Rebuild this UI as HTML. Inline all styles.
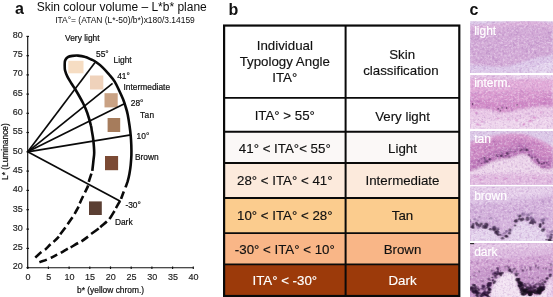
<!DOCTYPE html>
<html><head><meta charset="utf-8"><title>Skin colour volume</title>
<style>
html,body{margin:0;padding:0;background:#fff;}
body{width:553px;height:297px;overflow:hidden;position:relative;font-family:"Liberation Sans",sans-serif;}
svg{position:absolute;left:0;top:0;display:block}
text{font-family:"Liberation Sans",sans-serif;fill:#0d0d0d}
.b{font-weight:bold;font-size:16px;fill:#111}
.t{font-size:8.4px;stroke:#111;stroke-width:.2px}
.k{font-size:9px;fill:#1a1a1a;stroke:#222;stroke-width:.15px}
.c{font-size:13.3px;text-anchor:middle;fill:#111;stroke:#111;stroke-width:.15px}
.w{font-size:12px;fill:#fff;stroke:#fff;stroke-width:.2px}
</style></head><body>
<svg width="553" height="297" viewBox="0 0 553 297">

<text class="b" x="15.1" y="14.4">a</text>
<text x="36.7" y="11.1" style="font-size:12px">Skin colour volume – L*b* plane</text>
<text x="55.2" y="22.7" style="font-size:8.45px">ITA°= (ATAN (L*-50)/b*)x180/3.14159</text>
<g stroke="#111" stroke-width="1.15" fill="none">
<path d="M27.7 36.4V267.7H193.3"/>
<path d="M26.4 267.7h2.6"/>
<path d="M26.4 248.4h2.6"/>
<path d="M26.4 229.1h2.6"/>
<path d="M26.4 209.7h2.6"/>
<path d="M26.4 190.4h2.6"/>
<path d="M26.4 171.1h2.6"/>
<path d="M26.4 151.8h2.6"/>
<path d="M26.4 132.5h2.6"/>
<path d="M26.4 113.3h2.6"/>
<path d="M26.4 94.1h2.6"/>
<path d="M26.4 74.9h2.6"/>
<path d="M26.4 55.7h2.6"/>
<path d="M26.4 36.4h2.6"/>
<path d="M27.7 269.0v-2.6"/>
<path d="M48.4 269.0v-2.6"/>
<path d="M69.1 269.0v-2.6"/>
<path d="M89.8 269.0v-2.6"/>
<path d="M110.5 269.0v-2.6"/>
<path d="M131.2 269.0v-2.6"/>
<path d="M151.9 269.0v-2.6"/>
<path d="M172.6 269.0v-2.6"/>
<path d="M193.3 269.0v-2.6"/>
</g>
<text class="k" x="22.8" y="268.9" text-anchor="end">20</text>
<text class="k" x="22.8" y="250.3" text-anchor="end">25</text>
<text class="k" x="22.8" y="231.0" text-anchor="end">30</text>
<text class="k" x="22.8" y="211.6" text-anchor="end">35</text>
<text class="k" x="22.8" y="192.3" text-anchor="end">40</text>
<text class="k" x="22.8" y="173.0" text-anchor="end">45</text>
<text class="k" x="22.8" y="153.7" text-anchor="end">50</text>
<text class="k" x="22.8" y="134.0" text-anchor="end">55</text>
<text class="k" x="22.8" y="114.8" text-anchor="end">60</text>
<text class="k" x="22.8" y="95.6" text-anchor="end">65</text>
<text class="k" x="22.8" y="76.4" text-anchor="end">70</text>
<text class="k" x="22.8" y="57.2" text-anchor="end">75</text>
<text class="k" x="22.8" y="37.9" text-anchor="end">80</text>
<text class="k" x="28.0" y="279.6" text-anchor="middle">0</text>
<text class="k" x="48.7" y="279.6" text-anchor="middle">5</text>
<text class="k" x="69.4" y="279.6" text-anchor="middle">10</text>
<text class="k" x="90.1" y="279.6" text-anchor="middle">15</text>
<text class="k" x="110.8" y="279.6" text-anchor="middle">20</text>
<text class="k" x="131.5" y="279.6" text-anchor="middle">25</text>
<text class="k" x="152.2" y="279.6" text-anchor="middle">30</text>
<text class="k" x="172.9" y="279.6" text-anchor="middle">35</text>
<text class="k" x="193.6" y="279.6" text-anchor="middle">40</text>
<text class="t" x="77" y="292.6">b* (yellow chrom.)</text>
<text class="t" transform="translate(7.6,180) rotate(-90)">L* (Luminance)</text>
<rect x="68.3" y="60.8" width="15.2" height="12.5" fill="#f6ddc3"/>
<rect x="90" y="75.5" width="13.3" height="14" fill="#efd2bb"/>
<rect x="104.5" y="93.2" width="13.2" height="14.2" fill="#c9a284"/>
<rect x="107.6" y="118" width="12.6" height="14" fill="#a67c5c"/>
<rect x="105" y="156" width="13.1" height="14.2" fill="#7b4a34"/>
<rect x="89" y="201.4" width="12.8" height="13.6" fill="#5b3f33"/>
<g stroke="#0a0a0a" stroke-width="1.7" fill="none" stroke-linecap="butt">
<path d="M27.7 151.8L95 62.6"/>
<path d="M27.7 151.8L112.6 83.3"/>
<path d="M27.7 151.8L125.4 103.3"/>
<path d="M27.7 151.8L130.9 134.9"/>
<path d="M27.7 151.8L120.3 201.3"/>
</g>
<g stroke="#0a0a0a" stroke-width="2.6" fill="none" stroke-linejoin="round">
<path d="M92.3 170.9C92.5 169.1 93.2 163.1 93.5 160.0C93.8 156.9 94.2 155.9 94.2 152.6C94.2 149.3 93.7 143.7 93.3 140.0C92.9 136.3 92.2 133.0 91.8 130.6C91.4 128.2 91.7 128.4 90.9 125.5C90.2 122.6 88.6 116.8 87.3 113.0C86.0 109.2 85.0 106.9 83.0 103.0C81.0 99.1 77.3 92.7 75.4 89.5C73.5 86.3 73.1 86.2 71.8 84.0C70.5 81.8 68.5 78.8 67.4 76.6C66.3 74.4 65.5 72.5 65.1 70.6C64.6 68.7 64.7 66.9 64.7 65.2C64.7 63.5 64.6 61.9 65.1 60.5C65.6 59.1 66.6 57.9 67.8 57.1C69.0 56.3 70.8 56.1 72.5 55.9C74.2 55.6 75.9 55.5 77.9 55.6C79.9 55.8 82.4 56.1 84.6 56.8C86.8 57.4 89.5 58.7 91.3 59.5C93.1 60.3 93.7 60.4 95.6 61.8C97.5 63.1 100.5 65.4 102.8 67.6C105.1 69.8 107.5 72.7 109.5 75.0C111.5 77.3 113.2 79.2 114.7 81.7C116.2 84.2 117.4 86.8 118.8 89.7C120.2 92.6 121.9 96.4 123.1 99.3C124.2 102.2 124.9 104.5 125.7 107.0C126.5 109.5 127.1 111.4 127.7 114.5C128.3 117.6 129.0 122.0 129.5 125.5C130.0 129.0 130.4 132.2 130.7 135.5C131.0 138.8 131.2 141.8 131.3 145.0C131.4 148.2 131.5 151.7 131.4 155.0C131.3 158.3 131.0 161.8 130.7 165.0C130.4 168.2 129.9 171.2 129.4 174.0C128.9 176.8 128.2 179.5 127.6 181.7C126.9 183.9 125.8 186.4 125.5 187.4"/>
</g>
<g stroke="#0a0a0a" stroke-width="2.6" fill="none">
<path d="M91.4 173.6C91.0 175.0 89.3 179.8 88.8 181.8C88.3 183.8 88.8 183.8 88.2 185.5C87.6 187.2 85.8 190.6 85.0 192.3C84.2 194.0 84.1 194.1 83.2 195.9C82.3 197.7 80.6 201.4 79.8 203.2C79.0 205.0 79.4 204.8 78.6 206.5C77.8 208.2 75.7 211.9 74.7 213.7C73.7 215.5 73.8 215.4 72.6 217.1C71.4 218.8 69.0 222.3 67.8 224.0C66.6 225.7 66.7 225.6 65.5 227.3C64.3 229.0 61.6 232.5 60.5 234.0C59.4 235.5 60.1 235.1 59.0 236.4C57.9 237.7 55.2 240.3 53.8 241.6C52.4 242.9 52.1 242.8 50.7 244.1C49.3 245.4 46.8 248.2 45.3 249.5C43.8 250.8 43.3 250.4 41.6 251.8C39.9 253.2 36.3 256.7 35.3 257.7" stroke-dasharray="8.64 3.76 7.55 4.04 8.09 3.53 8.22 4.01 8.44 4.04 8.39 2.84 7.38 4.00 7.67 4.37 8.67"/>
<path d="M123.8 191.4C123.3 192.6 121.7 197.2 121.1 198.8C120.5 200.4 120.9 199.4 120.1 200.9C119.2 202.4 116.9 206.3 116.0 208.0C115.1 209.7 115.6 209.1 114.5 210.9C113.4 212.7 110.8 217.1 109.5 218.8C108.2 220.6 108.4 220.0 106.9 221.4C105.4 222.8 101.8 225.8 100.5 227.0C99.2 228.2 100.3 227.4 98.8 228.5C97.3 229.6 93.2 232.5 91.4 233.8C89.6 235.1 89.8 235.3 88.2 236.5C86.6 237.7 83.5 240.0 81.8 241.1C80.1 242.2 80.1 241.9 78.3 242.9C76.5 243.9 72.7 246.2 71.0 247.2C69.3 248.1 69.6 247.7 68.0 248.6C66.4 249.5 63.0 251.7 61.2 252.7C59.5 253.7 59.2 253.7 57.5 254.5C55.8 255.3 52.9 256.9 51.2 257.7C49.5 258.5 49.1 258.7 47.1 259.5C45.1 260.3 40.7 261.8 39.4 262.3" stroke-dasharray="7.91 2.34 8.23 3.28 9.39 3.69 8.54 2.28 9.14 4.20 7.91 3.95 8.51 3.32 7.97 4.13 7.09 4.50 8.23"/>
</g>
<text class="t" x="65.1" y="41.2">Very light</text>
<text class="t" x="96" y="56.5">55°</text>
<text class="t" x="113.5" y="62.9">Light</text>
<text class="t" x="117.2" y="78.7">41°</text>
<text class="t" x="123.5" y="89.7">Intermediate</text>
<text class="t" x="130.8" y="105.9">28°</text>
<text class="t" x="139.9" y="118.2" style="letter-spacing:.4px">Tan</text>
<text class="t" x="136.6" y="138.5">10°</text>
<text class="t" x="134.9" y="160">Brown</text>
<text class="t" x="125.4" y="208.1">-30°</text>
<text class="t" x="114.9" y="224.5">Dark</text>
<text class="b" x="228.4" y="14.8">b</text>
<rect x="224.1" y="25.3" width="235.20000000000002" height="72.55" fill="#ffffff"/>
<rect x="224.1" y="97.85" width="235.20000000000002" height="33.849999999999994" fill="#ffffff"/>
<rect x="224.1" y="131.7" width="235.20000000000002" height="31.30000000000001" fill="#fbf8f7"/>
<rect x="224.1" y="163.0" width="235.20000000000002" height="34.94999999999999" fill="#fceadc"/>
<rect x="224.1" y="197.95" width="235.20000000000002" height="35.150000000000006" fill="#fbcc8e"/>
<rect x="224.1" y="233.1" width="235.20000000000002" height="31.299999999999983" fill="#f9b687"/>
<rect x="224.1" y="264.4" width="235.20000000000002" height="31.600000000000023" fill="#9c3a0a"/>
<g stroke="#0a0a0a" stroke-width="2" fill="none">
<rect x="224.1" y="25.55" width="235.20000000000002" height="270.45" stroke-width="2.2"/>
<path d="M345.6 25.3V296" stroke-width="2"/>
<path d="M224.1 97.85H459.3" stroke-width="1.9"/>
<path d="M224.1 131.7H459.3" stroke-width="1.9"/>
<path d="M224.1 163.0H459.3" stroke-width="1.9"/>
<path d="M224.1 197.95H459.3" stroke-width="1.9"/>
<path d="M224.1 233.1H459.3" stroke-width="1.9"/>
<path d="M224.1 264.4H459.3" stroke-width="1.9"/>
</g>
<text class="c" x="284.8" y="49.5">Individual</text>
<text class="c" x="284.8" y="65.7">Typology Angle</text>
<text class="c" x="284.8" y="81.8">ITA°</text>
<text class="c" x="402.2" y="58.5">Skin</text>
<text class="c" x="400.9" y="74.7">classification</text>
<text class="c" x="284.8" y="120.3">ITA° &gt; 55°</text>
<text class="c" x="402.5" y="120.9">Very light</text>
<text class="c" x="284.8" y="152.9">41° &lt; ITA°&lt; 55°</text>
<text class="c" x="402.5" y="152.9">Light</text>
<text class="c" x="284.8" y="184.8">28° &lt; ITA° &lt; 41°</text>
<text class="c" x="402.5" y="185.2">Intermediate</text>
<text class="c" x="284.8" y="219.6">10° &lt; ITA° &lt; 28°</text>
<text class="c" x="402.5" y="219.6">Tan</text>
<text class="c" x="284.8" y="254.2">-30° &lt; ITA° &lt; 10°</text>
<text class="c" x="402.5" y="254.2">Brown</text>
<text class="c" x="284.8" y="284.8" style="fill:#fff;stroke:#fff">ITA° &lt; -30°</text>
<text class="c" x="402.5" y="285.1" style="fill:#fff;stroke:#fff">Dark</text>
<text class="b" x="469.6" y="15.2">c</text>
<defs><filter id="bl4" x="-10%" y="-10%" width="120%" height="120%"><feGaussianBlur stdDeviation="5"/></filter><filter id="bl2" x="-10%" y="-10%" width="120%" height="120%"><feGaussianBlur stdDeviation="2.5"/></filter><filter id="bl1" x="-10%" y="-10%" width="120%" height="120%"><feGaussianBlur stdDeviation="1.6"/></filter><filter id="nzd" x="0" y="0" width="100%" height="100%"><feTurbulence type="fractalNoise" baseFrequency="0.09" numOctaves="2" seed="3"/><feColorMatrix type="matrix" values="0 0 0 0 0.42  0 0 0 0 0.2  0 0 0 0 0.5  1.1 0 0 0 -0.5"/></filter><filter id="nzl" x="0" y="0" width="100%" height="100%"><feTurbulence type="fractalNoise" baseFrequency="0.09" numOctaves="2" seed="11"/><feColorMatrix type="matrix" values="0 0 0 0 1  0 0 0 0 0.96  0 0 0 0 1  1.1 0 0 0 -0.5"/></filter></defs><svg x="467" y="19" width="86" height="64" viewBox="0 0 455.8 339.2" overflow="hidden"><defs><clipPath id="cp1"><rect x="16.2" y="12.2" width="445" height="274.0"/></clipPath></defs><g clip-path="url(#cp1)"><rect x="0" y="0" width="460" height="340" fill="#dccbe9"/><g filter="url(#bl4)"><path d="M15 32C32 31 81 29 120 26C159 23 215 15 250 12C285 9 305 8 330 8C355 8 379 11 400 14C421 17 447 24 456 26L456 340L15 340Z" fill="#dcb2dc"/><path d="M15 60C32 59 81 57 120 54C159 51 215 43 250 40C285 37 305 35 330 36C355 37 379 41 400 44C421 47 447 54 456 56L456 340L15 340Z" fill="#d3aad7"/><path d="M15 240C32 242 89 248 120 250C151 252 175 254 200 252C225 250 248 241 270 235C292 229 308 221 330 215C352 209 379 204 400 200C421 196 447 190 456 188L456 340L15 340Z" fill="#dcc8e9"/><path d="M260 300 L456 215 L456 340 L260 340Z" fill="#e6d8f0" opacity="0.7"/></g><g filter="url(#bl2)"><ellipse cx="74" cy="217" rx="6.3" ry="5.0" fill="#b07fbc" opacity="0.33"/><ellipse cx="233" cy="133" rx="6.0" ry="6.0" fill="#b07fbc" opacity="0.33"/><ellipse cx="56" cy="63" rx="6.5" ry="5.7" fill="#b07fbc" opacity="0.33"/><ellipse cx="351" cy="39" rx="5.3" ry="5.3" fill="#b07fbc" opacity="0.33"/><ellipse cx="116" cy="239" rx="6.7" ry="4.8" fill="#b07fbc" opacity="0.33"/><ellipse cx="26" cy="158" rx="6.8" ry="5.8" fill="#b07fbc" opacity="0.33"/><ellipse cx="111" cy="137" rx="4.1" ry="3.2" fill="#b07fbc" opacity="0.33"/><ellipse cx="208" cy="146" rx="4.7" ry="3.7" fill="#b07fbc" opacity="0.33"/><ellipse cx="111" cy="144" rx="4.9" ry="3.5" fill="#b07fbc" opacity="0.33"/><ellipse cx="384" cy="132" rx="5.9" ry="4.6" fill="#b07fbc" opacity="0.33"/><ellipse cx="453" cy="170" rx="4.4" ry="3.6" fill="#b07fbc" opacity="0.33"/><ellipse cx="333" cy="163" rx="6.8" ry="5.9" fill="#b07fbc" opacity="0.33"/><ellipse cx="381" cy="151" rx="4.9" ry="4.6" fill="#b07fbc" opacity="0.33"/><ellipse cx="404" cy="175" rx="5.5" ry="5.2" fill="#b07fbc" opacity="0.33"/><ellipse cx="30" cy="103" rx="6.4" ry="5.5" fill="#b07fbc" opacity="0.33"/><ellipse cx="91" cy="161" rx="6.1" ry="5.9" fill="#b07fbc" opacity="0.33"/><ellipse cx="180" cy="137" rx="5.5" ry="5.6" fill="#b07fbc" opacity="0.33"/><ellipse cx="245" cy="119" rx="5.5" ry="3.9" fill="#b07fbc" opacity="0.33"/><ellipse cx="34" cy="188" rx="6.9" ry="6.5" fill="#b07fbc" opacity="0.33"/><ellipse cx="189" cy="82" rx="5.5" ry="6.0" fill="#b07fbc" opacity="0.33"/><ellipse cx="355" cy="131" rx="6.6" ry="5.2" fill="#b07fbc" opacity="0.33"/><ellipse cx="242" cy="232" rx="5.7" ry="5.1" fill="#b07fbc" opacity="0.33"/><ellipse cx="134" cy="161" rx="6.9" ry="4.8" fill="#b07fbc" opacity="0.33"/><ellipse cx="361" cy="178" rx="6.7" ry="6.6" fill="#b07fbc" opacity="0.33"/><ellipse cx="372" cy="126" rx="5.7" ry="4.9" fill="#b07fbc" opacity="0.33"/><ellipse cx="40" cy="218" rx="5.7" ry="4.5" fill="#b07fbc" opacity="0.33"/><ellipse cx="238" cy="139" rx="5.1" ry="4.3" fill="#b07fbc" opacity="0.33"/><ellipse cx="252" cy="164" rx="5.8" ry="5.2" fill="#b07fbc" opacity="0.33"/><ellipse cx="27" cy="101" rx="4.5" ry="4.2" fill="#b07fbc" opacity="0.33"/><ellipse cx="395" cy="169" rx="6.4" ry="6.6" fill="#b07fbc" opacity="0.33"/><ellipse cx="128" cy="219" rx="6.0" ry="4.4" fill="#b07fbc" opacity="0.33"/><ellipse cx="22" cy="62" rx="6.3" ry="5.0" fill="#b07fbc" opacity="0.33"/><ellipse cx="63" cy="174" rx="5.0" ry="3.7" fill="#b07fbc" opacity="0.33"/><ellipse cx="85" cy="157" rx="4.5" ry="3.6" fill="#b07fbc" opacity="0.33"/><ellipse cx="329" cy="118" rx="5.0" ry="4.4" fill="#b07fbc" opacity="0.33"/><ellipse cx="25" cy="130" rx="5.3" ry="4.1" fill="#b07fbc" opacity="0.33"/><ellipse cx="63" cy="226" rx="5.5" ry="4.3" fill="#b07fbc" opacity="0.33"/><ellipse cx="282" cy="196" rx="4.1" ry="2.9" fill="#b07fbc" opacity="0.33"/><ellipse cx="80" cy="193" rx="4.5" ry="4.4" fill="#b07fbc" opacity="0.33"/><ellipse cx="314" cy="137" rx="4.7" ry="5.1" fill="#b07fbc" opacity="0.33"/><ellipse cx="367" cy="126" rx="4.7" ry="4.5" fill="#b07fbc" opacity="0.33"/><ellipse cx="189" cy="165" rx="5.0" ry="4.7" fill="#b07fbc" opacity="0.33"/><ellipse cx="41" cy="113" rx="6.9" ry="7.3" fill="#b07fbc" opacity="0.33"/><ellipse cx="150" cy="222" rx="4.9" ry="5.3" fill="#b07fbc" opacity="0.33"/><ellipse cx="343" cy="110" rx="4.8" ry="3.3" fill="#b07fbc" opacity="0.33"/><ellipse cx="403" cy="50" rx="6.5" ry="7.0" fill="#b07fbc" opacity="0.33"/><ellipse cx="266" cy="73" rx="6.6" ry="7.2" fill="#b07fbc" opacity="0.33"/><ellipse cx="325" cy="128" rx="5.1" ry="4.3" fill="#b07fbc" opacity="0.33"/><ellipse cx="106" cy="185" rx="5.3" ry="4.1" fill="#b07fbc" opacity="0.33"/><ellipse cx="61" cy="182" rx="4.9" ry="4.4" fill="#b07fbc" opacity="0.33"/><ellipse cx="158" cy="225" rx="6.7" ry="4.7" fill="#b07fbc" opacity="0.33"/><ellipse cx="104" cy="118" rx="7.0" ry="7.1" fill="#b07fbc" opacity="0.33"/><ellipse cx="165" cy="92" rx="6.0" ry="6.2" fill="#b07fbc" opacity="0.33"/><ellipse cx="426" cy="99" rx="6.6" ry="6.5" fill="#b07fbc" opacity="0.33"/><ellipse cx="229" cy="242" rx="4.7" ry="4.7" fill="#b07fbc" opacity="0.33"/><ellipse cx="52" cy="89" rx="6.7" ry="5.3" fill="#b07fbc" opacity="0.33"/><ellipse cx="350" cy="142" rx="6.5" ry="5.5" fill="#b07fbc" opacity="0.33"/><ellipse cx="165" cy="108" rx="6.6" ry="6.2" fill="#b07fbc" opacity="0.33"/><ellipse cx="436" cy="176" rx="4.4" ry="4.1" fill="#b07fbc" opacity="0.33"/><ellipse cx="61" cy="65" rx="4.2" ry="4.4" fill="#b07fbc" opacity="0.33"/><ellipse cx="363" cy="179" rx="5.0" ry="4.8" fill="#b07fbc" opacity="0.33"/><ellipse cx="360" cy="103" rx="5.7" ry="4.5" fill="#b07fbc" opacity="0.33"/><ellipse cx="51" cy="107" rx="6.7" ry="6.2" fill="#b07fbc" opacity="0.33"/><ellipse cx="423" cy="116" rx="4.8" ry="4.9" fill="#b07fbc" opacity="0.33"/><ellipse cx="380" cy="44" rx="6.0" ry="4.4" fill="#b07fbc" opacity="0.33"/><ellipse cx="66" cy="223" rx="4.1" ry="3.3" fill="#b07fbc" opacity="0.33"/><ellipse cx="451" cy="111" rx="4.3" ry="3.3" fill="#b07fbc" opacity="0.33"/><ellipse cx="121" cy="200" rx="4.3" ry="4.6" fill="#b07fbc" opacity="0.33"/><ellipse cx="182" cy="245" rx="6.7" ry="5.5" fill="#b07fbc" opacity="0.33"/><ellipse cx="127" cy="147" rx="4.3" ry="4.1" fill="#b07fbc" opacity="0.33"/><ellipse cx="32" cy="61" rx="6.9" ry="5.7" fill="#b07fbc" opacity="0.33"/><ellipse cx="278" cy="126" rx="4.9" ry="3.6" fill="#b07fbc" opacity="0.33"/><ellipse cx="418" cy="192" rx="6.9" ry="5.1" fill="#b07fbc" opacity="0.33"/><ellipse cx="110" cy="175" rx="6.9" ry="6.4" fill="#b07fbc" opacity="0.33"/><ellipse cx="318" cy="157" rx="4.8" ry="4.4" fill="#b07fbc" opacity="0.33"/><ellipse cx="151" cy="100" rx="4.2" ry="3.4" fill="#b07fbc" opacity="0.33"/><ellipse cx="449" cy="115" rx="6.0" ry="5.7" fill="#b07fbc" opacity="0.33"/><ellipse cx="430" cy="106" rx="4.9" ry="4.1" fill="#b07fbc" opacity="0.33"/><ellipse cx="155" cy="220" rx="6.7" ry="5.5" fill="#b07fbc" opacity="0.33"/><ellipse cx="162" cy="159" rx="5.7" ry="5.4" fill="#b07fbc" opacity="0.33"/><ellipse cx="123" cy="58" rx="4.7" ry="3.4" fill="#b07fbc" opacity="0.33"/><ellipse cx="258" cy="54" rx="4.2" ry="4.0" fill="#b07fbc" opacity="0.33"/><ellipse cx="143" cy="209" rx="5.5" ry="5.7" fill="#b07fbc" opacity="0.33"/><ellipse cx="83" cy="152" rx="6.4" ry="4.7" fill="#b07fbc" opacity="0.33"/><ellipse cx="434" cy="76" rx="6.3" ry="6.9" fill="#b07fbc" opacity="0.33"/><ellipse cx="377" cy="94" rx="4.3" ry="3.9" fill="#b07fbc" opacity="0.33"/><ellipse cx="420" cy="92" rx="6.7" ry="5.1" fill="#b07fbc" opacity="0.33"/><ellipse cx="417" cy="52" rx="4.9" ry="5.3" fill="#b07fbc" opacity="0.33"/><ellipse cx="370" cy="191" rx="6.5" ry="6.5" fill="#b07fbc" opacity="0.33"/><ellipse cx="319" cy="69" rx="5.3" ry="4.0" fill="#b07fbc" opacity="0.33"/><ellipse cx="330" cy="156" rx="4.8" ry="3.5" fill="#b07fbc" opacity="0.33"/><ellipse cx="440" cy="165" rx="5.6" ry="5.2" fill="#b07fbc" opacity="0.33"/><ellipse cx="390" cy="115" rx="5.2" ry="4.3" fill="#b07fbc" opacity="0.33"/><ellipse cx="129" cy="58" rx="5.9" ry="5.1" fill="#b07fbc" opacity="0.33"/><ellipse cx="267" cy="51" rx="5.1" ry="3.8" fill="#b07fbc" opacity="0.33"/><ellipse cx="70" cy="106" rx="6.5" ry="5.6" fill="#b07fbc" opacity="0.33"/><ellipse cx="192" cy="172" rx="4.7" ry="3.3" fill="#b07fbc" opacity="0.33"/><ellipse cx="248" cy="140" rx="5.9" ry="5.2" fill="#b07fbc" opacity="0.33"/><ellipse cx="318" cy="170" rx="4.7" ry="4.2" fill="#b07fbc" opacity="0.33"/><ellipse cx="226" cy="88" rx="5.2" ry="4.8" fill="#b07fbc" opacity="0.33"/><ellipse cx="415" cy="184" rx="4.8" ry="4.6" fill="#b07fbc" opacity="0.33"/><ellipse cx="36" cy="72" rx="5.5" ry="5.8" fill="#b07fbc" opacity="0.33"/><ellipse cx="85" cy="202" rx="6.6" ry="5.5" fill="#b07fbc" opacity="0.33"/><ellipse cx="320" cy="191" rx="5.1" ry="5.0" fill="#b07fbc" opacity="0.33"/><ellipse cx="340" cy="142" rx="6.6" ry="7.0" fill="#b07fbc" opacity="0.33"/><ellipse cx="438" cy="132" rx="4.5" ry="3.6" fill="#b07fbc" opacity="0.33"/><ellipse cx="111" cy="165" rx="6.3" ry="4.5" fill="#b07fbc" opacity="0.33"/><ellipse cx="316" cy="168" rx="5.0" ry="4.6" fill="#b07fbc" opacity="0.33"/><ellipse cx="88" cy="195" rx="4.1" ry="4.5" fill="#b07fbc" opacity="0.33"/><ellipse cx="371" cy="145" rx="4.8" ry="5.1" fill="#b07fbc" opacity="0.33"/><ellipse cx="438" cy="72" rx="6.3" ry="6.6" fill="#b07fbc" opacity="0.33"/><ellipse cx="306" cy="167" rx="5.3" ry="5.7" fill="#b07fbc" opacity="0.33"/><ellipse cx="443" cy="106" rx="6.4" ry="5.6" fill="#b07fbc" opacity="0.33"/><ellipse cx="88" cy="118" rx="4.4" ry="4.7" fill="#b07fbc" opacity="0.33"/><ellipse cx="438" cy="69" rx="5.8" ry="5.0" fill="#b07fbc" opacity="0.33"/><ellipse cx="67" cy="113" rx="4.7" ry="4.7" fill="#b07fbc" opacity="0.33"/><ellipse cx="17" cy="94" rx="5.3" ry="3.8" fill="#b07fbc" opacity="0.33"/><ellipse cx="292" cy="153" rx="6.5" ry="5.1" fill="#b07fbc" opacity="0.33"/><ellipse cx="141" cy="160" rx="4.8" ry="4.5" fill="#b07fbc" opacity="0.33"/><ellipse cx="126" cy="188" rx="6.4" ry="6.5" fill="#b07fbc" opacity="0.33"/><ellipse cx="444" cy="128" rx="6.5" ry="6.7" fill="#e2c4e4" opacity="0.3"/><ellipse cx="354" cy="136" rx="6.1" ry="5.0" fill="#e2c4e4" opacity="0.3"/><ellipse cx="63" cy="209" rx="5.4" ry="5.3" fill="#e2c4e4" opacity="0.3"/><ellipse cx="255" cy="232" rx="7.3" ry="7.9" fill="#e2c4e4" opacity="0.3"/><ellipse cx="75" cy="151" rx="6.7" ry="5.5" fill="#e2c4e4" opacity="0.3"/><ellipse cx="237" cy="113" rx="6.6" ry="4.6" fill="#e2c4e4" opacity="0.3"/><ellipse cx="210" cy="137" rx="5.9" ry="5.1" fill="#e2c4e4" opacity="0.3"/><ellipse cx="360" cy="155" rx="6.5" ry="6.2" fill="#e2c4e4" opacity="0.3"/><ellipse cx="182" cy="89" rx="5.0" ry="4.1" fill="#e2c4e4" opacity="0.3"/><ellipse cx="279" cy="209" rx="7.5" ry="6.8" fill="#e2c4e4" opacity="0.3"/><ellipse cx="450" cy="117" rx="7.5" ry="6.5" fill="#e2c4e4" opacity="0.3"/><ellipse cx="343" cy="210" rx="5.9" ry="4.5" fill="#e2c4e4" opacity="0.3"/><ellipse cx="288" cy="139" rx="6.1" ry="4.3" fill="#e2c4e4" opacity="0.3"/><ellipse cx="187" cy="134" rx="6.2" ry="6.5" fill="#e2c4e4" opacity="0.3"/><ellipse cx="273" cy="182" rx="7.7" ry="7.7" fill="#e2c4e4" opacity="0.3"/><ellipse cx="232" cy="193" rx="6.9" ry="6.6" fill="#e2c4e4" opacity="0.3"/><ellipse cx="293" cy="115" rx="6.9" ry="6.6" fill="#e2c4e4" opacity="0.3"/><ellipse cx="428" cy="163" rx="7.5" ry="7.6" fill="#e2c4e4" opacity="0.3"/><ellipse cx="375" cy="141" rx="6.0" ry="4.9" fill="#e2c4e4" opacity="0.3"/><ellipse cx="327" cy="193" rx="6.6" ry="5.0" fill="#e2c4e4" opacity="0.3"/><ellipse cx="382" cy="120" rx="6.4" ry="4.6" fill="#e2c4e4" opacity="0.3"/><ellipse cx="240" cy="191" rx="6.3" ry="5.3" fill="#e2c4e4" opacity="0.3"/><ellipse cx="305" cy="41" rx="6.5" ry="7.0" fill="#e2c4e4" opacity="0.3"/><ellipse cx="319" cy="110" rx="7.1" ry="6.7" fill="#e2c4e4" opacity="0.3"/><ellipse cx="107" cy="95" rx="7.7" ry="6.2" fill="#e2c4e4" opacity="0.3"/><ellipse cx="48" cy="212" rx="6.6" ry="5.6" fill="#e2c4e4" opacity="0.3"/><ellipse cx="241" cy="189" rx="5.5" ry="5.3" fill="#e2c4e4" opacity="0.3"/><ellipse cx="330" cy="182" rx="5.8" ry="5.5" fill="#e2c4e4" opacity="0.3"/><ellipse cx="117" cy="164" rx="5.5" ry="5.6" fill="#e2c4e4" opacity="0.3"/><ellipse cx="397" cy="95" rx="5.7" ry="6.2" fill="#e2c4e4" opacity="0.3"/></g><rect x="0" y="0" width="456" height="340" filter="url(#nzd)"/><rect x="0" y="0" width="456" height="340" filter="url(#nzl)"/></g></svg><svg x="467" y="73" width="86" height="64" viewBox="0 0 455.8 339.2" overflow="hidden"><defs><clipPath id="cp2"><rect x="16.2" y="11.1" width="445" height="284.6"/></clipPath></defs><g clip-path="url(#cp2)"><rect x="0" y="0" width="460" height="340" fill="#ead2ec"/><g filter="url(#bl4)"><path d="M15 10 L250 10 L250 40 L15 40Z" fill="#e4c2e4" opacity="0.9"/><path d="M15 32C32 32 84 29 120 30C156 31 200 36 230 36C260 36 275 31 300 30C325 29 354 29 380 30C406 31 443 33 456 34L456 340L15 340Z" fill="#e2aad8"/><path d="M15 105C32 104 84 101 120 100C156 99 200 100 230 98C260 96 275 91 300 90C325 89 354 90 380 92C406 94 443 99 456 100L456 340L15 340Z" fill="#da9acf"/><path d="M15 150C28 149 66 143 90 145C114 147 139 157 160 160C181 163 198 165 215 163C232 161 242 154 260 150C278 146 298 143 320 140C342 137 367 134 390 133C413 132 445 135 456 135L456 340L15 340Z" fill="#cf86c4" opacity="0.75"/><path d="M15 195C28 194 66 188 90 190C114 192 139 202 160 205C181 208 198 210 215 208C232 206 242 199 260 195C278 191 298 188 320 185C342 182 367 179 390 178C413 177 445 180 456 180L456 340L15 340Z" fill="#eac9e7"/><path d="M15 255 L456 240 L456 340 L15 340Z" fill="#f0d9ef" opacity="0.8"/></g><g filter="url(#bl2)"><ellipse cx="437" cy="175" rx="4.2" ry="3.1" fill="#b468b2" opacity="0.3"/><ellipse cx="383" cy="156" rx="6.0" ry="4.9" fill="#b468b2" opacity="0.3"/><ellipse cx="282" cy="152" rx="5.7" ry="4.4" fill="#b468b2" opacity="0.3"/><ellipse cx="205" cy="141" rx="6.2" ry="6.8" fill="#b468b2" opacity="0.3"/><ellipse cx="434" cy="142" rx="5.3" ry="4.3" fill="#b468b2" opacity="0.3"/><ellipse cx="31" cy="107" rx="5.4" ry="4.5" fill="#b468b2" opacity="0.3"/><ellipse cx="183" cy="195" rx="5.6" ry="5.2" fill="#b468b2" opacity="0.3"/><ellipse cx="119" cy="102" rx="5.0" ry="3.8" fill="#b468b2" opacity="0.3"/><ellipse cx="240" cy="201" rx="6.0" ry="4.7" fill="#b468b2" opacity="0.3"/><ellipse cx="409" cy="162" rx="6.2" ry="6.6" fill="#b468b2" opacity="0.3"/><ellipse cx="351" cy="163" rx="5.1" ry="5.5" fill="#b468b2" opacity="0.3"/><ellipse cx="439" cy="111" rx="6.3" ry="6.2" fill="#b468b2" opacity="0.3"/><ellipse cx="218" cy="156" rx="5.5" ry="5.9" fill="#b468b2" opacity="0.3"/><ellipse cx="236" cy="184" rx="5.1" ry="5.3" fill="#b468b2" opacity="0.3"/><ellipse cx="412" cy="134" rx="5.7" ry="6.1" fill="#b468b2" opacity="0.3"/><ellipse cx="334" cy="136" rx="4.7" ry="3.9" fill="#b468b2" opacity="0.3"/><ellipse cx="324" cy="106" rx="6.7" ry="5.4" fill="#b468b2" opacity="0.3"/><ellipse cx="417" cy="122" rx="6.9" ry="6.8" fill="#b468b2" opacity="0.3"/><ellipse cx="237" cy="151" rx="6.0" ry="5.6" fill="#b468b2" opacity="0.3"/><ellipse cx="153" cy="121" rx="5.5" ry="5.9" fill="#b468b2" opacity="0.3"/><ellipse cx="290" cy="99" rx="6.5" ry="6.4" fill="#b468b2" opacity="0.3"/><ellipse cx="415" cy="112" rx="6.2" ry="4.5" fill="#b468b2" opacity="0.3"/><ellipse cx="303" cy="117" rx="4.7" ry="4.9" fill="#b468b2" opacity="0.3"/><ellipse cx="62" cy="149" rx="6.6" ry="5.2" fill="#b468b2" opacity="0.3"/><ellipse cx="108" cy="183" rx="5.3" ry="5.2" fill="#b468b2" opacity="0.3"/><ellipse cx="29" cy="137" rx="4.5" ry="4.4" fill="#b468b2" opacity="0.3"/><ellipse cx="52" cy="189" rx="4.1" ry="4.0" fill="#b468b2" opacity="0.3"/><ellipse cx="24" cy="128" rx="6.4" ry="4.9" fill="#b468b2" opacity="0.3"/><ellipse cx="96" cy="163" rx="5.2" ry="3.7" fill="#b468b2" opacity="0.3"/><ellipse cx="452" cy="112" rx="4.1" ry="3.4" fill="#b468b2" opacity="0.3"/><ellipse cx="286" cy="165" rx="4.3" ry="3.6" fill="#b468b2" opacity="0.3"/><ellipse cx="29" cy="145" rx="6.3" ry="6.3" fill="#b468b2" opacity="0.3"/><ellipse cx="413" cy="158" rx="6.6" ry="6.5" fill="#b468b2" opacity="0.3"/><ellipse cx="223" cy="122" rx="6.0" ry="4.9" fill="#b468b2" opacity="0.3"/><ellipse cx="60" cy="143" rx="6.6" ry="5.0" fill="#b468b2" opacity="0.3"/><ellipse cx="273" cy="132" rx="5.5" ry="4.2" fill="#b468b2" opacity="0.3"/><ellipse cx="438" cy="119" rx="5.8" ry="5.0" fill="#b468b2" opacity="0.3"/><ellipse cx="23" cy="155" rx="4.4" ry="3.2" fill="#b468b2" opacity="0.3"/><ellipse cx="30" cy="119" rx="4.3" ry="4.1" fill="#b468b2" opacity="0.3"/><ellipse cx="239" cy="199" rx="6.8" ry="7.5" fill="#b468b2" opacity="0.3"/><ellipse cx="118" cy="143" rx="4.8" ry="4.5" fill="#b468b2" opacity="0.3"/><ellipse cx="290" cy="170" rx="6.1" ry="4.9" fill="#b468b2" opacity="0.3"/><ellipse cx="202" cy="156" rx="4.0" ry="2.9" fill="#b468b2" opacity="0.3"/><ellipse cx="195" cy="111" rx="6.2" ry="4.9" fill="#b468b2" opacity="0.3"/><ellipse cx="59" cy="119" rx="4.7" ry="3.7" fill="#b468b2" opacity="0.3"/><ellipse cx="245" cy="144" rx="4.9" ry="4.7" fill="#b468b2" opacity="0.3"/><ellipse cx="109" cy="185" rx="6.9" ry="6.8" fill="#b468b2" opacity="0.3"/><ellipse cx="206" cy="154" rx="5.7" ry="4.1" fill="#b468b2" opacity="0.3"/><ellipse cx="199" cy="156" rx="4.5" ry="3.4" fill="#b468b2" opacity="0.3"/><ellipse cx="369" cy="124" rx="5.6" ry="5.9" fill="#b468b2" opacity="0.3"/><ellipse cx="284" cy="121" rx="7.0" ry="5.9" fill="#b468b2" opacity="0.3"/><ellipse cx="23" cy="166" rx="4.3" ry="3.5" fill="#b468b2" opacity="0.3"/><ellipse cx="386" cy="150" rx="4.0" ry="3.6" fill="#b468b2" opacity="0.3"/><ellipse cx="196" cy="151" rx="4.6" ry="4.3" fill="#b468b2" opacity="0.3"/><ellipse cx="48" cy="129" rx="5.1" ry="5.5" fill="#b468b2" opacity="0.3"/><ellipse cx="49" cy="171" rx="4.6" ry="4.3" fill="#b468b2" opacity="0.3"/><ellipse cx="188" cy="149" rx="6.3" ry="5.4" fill="#b468b2" opacity="0.3"/><ellipse cx="69" cy="113" rx="4.2" ry="4.4" fill="#b468b2" opacity="0.3"/><ellipse cx="298" cy="185" rx="6.1" ry="4.3" fill="#b468b2" opacity="0.3"/><ellipse cx="306" cy="166" rx="6.2" ry="5.5" fill="#b468b2" opacity="0.3"/><ellipse cx="173" cy="148" rx="6.4" ry="5.2" fill="#b468b2" opacity="0.3"/><ellipse cx="247" cy="145" rx="6.9" ry="7.0" fill="#b468b2" opacity="0.3"/><ellipse cx="426" cy="166" rx="4.9" ry="3.9" fill="#b468b2" opacity="0.3"/><ellipse cx="231" cy="125" rx="5.3" ry="5.1" fill="#b468b2" opacity="0.3"/><ellipse cx="420" cy="145" rx="6.5" ry="4.8" fill="#b468b2" opacity="0.3"/><ellipse cx="172" cy="205" rx="4.4" ry="3.8" fill="#b468b2" opacity="0.3"/><ellipse cx="44" cy="111" rx="6.7" ry="7.3" fill="#b468b2" opacity="0.3"/><ellipse cx="301" cy="103" rx="4.9" ry="3.9" fill="#b468b2" opacity="0.3"/><ellipse cx="311" cy="156" rx="5.3" ry="4.8" fill="#b468b2" opacity="0.3"/><ellipse cx="64" cy="151" rx="6.8" ry="6.9" fill="#b468b2" opacity="0.3"/><ellipse cx="57" cy="149" rx="6.1" ry="4.9" fill="#b468b2" opacity="0.3"/><ellipse cx="410" cy="134" rx="6.1" ry="5.3" fill="#b468b2" opacity="0.3"/><ellipse cx="454" cy="163" rx="5.7" ry="4.3" fill="#b468b2" opacity="0.3"/><ellipse cx="210" cy="102" rx="5.8" ry="6.1" fill="#b468b2" opacity="0.3"/><ellipse cx="95" cy="147" rx="5.4" ry="4.7" fill="#b468b2" opacity="0.3"/><ellipse cx="328" cy="178" rx="6.1" ry="5.4" fill="#b468b2" opacity="0.3"/><ellipse cx="439" cy="125" rx="6.2" ry="6.0" fill="#b468b2" opacity="0.3"/><ellipse cx="351" cy="169" rx="4.7" ry="4.4" fill="#b468b2" opacity="0.3"/><ellipse cx="193" cy="171" rx="6.9" ry="6.6" fill="#b468b2" opacity="0.3"/><ellipse cx="20" cy="147" rx="6.1" ry="6.5" fill="#b468b2" opacity="0.3"/><ellipse cx="300" cy="275" rx="7" ry="5" fill="#cc70be" opacity=".6"/><ellipse cx="334" cy="255" rx="12" ry="5" fill="#cc70be" opacity=".6"/><ellipse cx="63" cy="275" rx="11" ry="3" fill="#cc70be" opacity=".6"/><ellipse cx="340" cy="253" rx="8" ry="5" fill="#cc70be" opacity=".6"/><ellipse cx="79" cy="258" rx="9" ry="4" fill="#cc70be" opacity=".6"/><ellipse cx="263" cy="249" rx="8" ry="5" fill="#cc70be" opacity=".6"/><ellipse cx="51" cy="211" rx="9" ry="5" fill="#cc70be" opacity=".6"/><ellipse cx="303" cy="269" rx="9" ry="4" fill="#cc70be" opacity=".6"/><ellipse cx="164" cy="241" rx="10" ry="3" fill="#cc70be" opacity=".6"/><ellipse cx="54" cy="270" rx="8" ry="5" fill="#cc70be" opacity=".6"/><ellipse cx="357" cy="236" rx="10" ry="5" fill="#cc70be" opacity=".6"/><ellipse cx="392" cy="209" rx="8" ry="4" fill="#cc70be" opacity=".6"/><ellipse cx="220" cy="244" rx="7" ry="4" fill="#cc70be" opacity=".6"/></g><g filter="url(#bl1)"><ellipse cx="30" cy="165" rx="4" ry="6" fill="#4a2350" opacity=".7"/><ellipse cx="165" cy="190" rx="4" ry="6" fill="#4a2350" opacity=".7"/><ellipse cx="185" cy="184" rx="4" ry="6" fill="#4a2350" opacity=".7"/><ellipse cx="210" cy="186" rx="4" ry="6" fill="#4a2350" opacity=".7"/><ellipse cx="265" cy="170" rx="4" ry="6" fill="#4a2350" opacity=".7"/><ellipse cx="175" cy="200" rx="4" ry="6" fill="#4a2350" opacity=".7"/></g><rect x="0" y="0" width="456" height="340" filter="url(#nzd)"/><rect x="0" y="0" width="456" height="340" filter="url(#nzl)"/></g></svg><svg x="467" y="128" width="86" height="64" viewBox="0 0 455.8 339.2" overflow="hidden"><defs><clipPath id="cp3"><rect x="16.2" y="15.9" width="445" height="285.1"/></clipPath></defs><g clip-path="url(#cp3)"><rect x="0" y="0" width="460" height="340" fill="#dccae8"/><g filter="url(#bl4)"><path d="M15 72C26 69 58 61 80 55C102 49 127 42 150 38C173 34 195 31 220 30C245 29 275 28 300 32C325 36 350 47 370 55C390 63 406 72 420 80C434 88 450 97 456 100L456 340L15 340Z" fill="#d899cd"/><path d="M15 94C26 91 58 83 80 77C102 71 127 64 150 60C173 56 195 53 220 52C245 51 275 50 300 54C325 58 350 69 370 77C390 85 406 94 420 102C434 110 450 119 456 122L456 340L15 340Z" fill="#cd88c3"/><path d="M11 177C22 173 55 162 75 153C95 144 112 132 131 125C150 118 169 113 188 109C207 105 228 105 244 101C260 97 272 86 285 84C298 82 314 85 325 92C336 99 338 115 349 125C360 135 376 146 389 153C402 160 418 165 429 165C440 165 452 155 456 153L456 340L15 340Z" fill="#b873b5" opacity="0.75"/><path d="M11 232C22 228 55 217 75 208C95 199 112 187 131 180C150 173 169 168 188 164C207 160 228 160 244 156C260 152 272 140 285 139C298 138 314 140 325 147C336 154 338 170 349 180C360 190 376 201 389 208C402 215 418 220 429 220C440 220 452 210 456 208L456 340L15 340Z" fill="#edd6eb"/><path d="M15 248 L200 238 L456 243 L456 340 L15 340Z" fill="#dfb6de" opacity="0.85"/></g><g filter="url(#bl2)"><ellipse cx="120" cy="133" rx="5.1" ry="4.8" fill="#a85aa6" opacity="0.4"/><ellipse cx="291" cy="62" rx="4.0" ry="4.2" fill="#a85aa6" opacity="0.4"/><ellipse cx="129" cy="94" rx="7.0" ry="6.2" fill="#a85aa6" opacity="0.4"/><ellipse cx="384" cy="143" rx="5.9" ry="4.5" fill="#a85aa6" opacity="0.4"/><ellipse cx="295" cy="130" rx="5.6" ry="5.6" fill="#a85aa6" opacity="0.4"/><ellipse cx="311" cy="66" rx="6.3" ry="5.9" fill="#a85aa6" opacity="0.4"/><ellipse cx="148" cy="67" rx="6.6" ry="5.9" fill="#a85aa6" opacity="0.4"/><ellipse cx="332" cy="146" rx="6.1" ry="6.6" fill="#a85aa6" opacity="0.4"/><ellipse cx="189" cy="143" rx="5.3" ry="5.7" fill="#a85aa6" opacity="0.4"/><ellipse cx="403" cy="108" rx="4.4" ry="3.5" fill="#a85aa6" opacity="0.4"/><ellipse cx="441" cy="159" rx="5.9" ry="4.8" fill="#a85aa6" opacity="0.4"/><ellipse cx="239" cy="95" rx="5.1" ry="4.7" fill="#a85aa6" opacity="0.4"/><ellipse cx="273" cy="136" rx="6.0" ry="6.5" fill="#a85aa6" opacity="0.4"/><ellipse cx="393" cy="208" rx="6.0" ry="4.6" fill="#a85aa6" opacity="0.4"/><ellipse cx="395" cy="206" rx="6.7" ry="6.2" fill="#a85aa6" opacity="0.4"/><ellipse cx="330" cy="85" rx="6.5" ry="6.0" fill="#a85aa6" opacity="0.4"/><ellipse cx="141" cy="72" rx="6.6" ry="7.2" fill="#a85aa6" opacity="0.4"/><ellipse cx="54" cy="190" rx="5.2" ry="4.0" fill="#a85aa6" opacity="0.4"/><ellipse cx="145" cy="150" rx="6.6" ry="4.7" fill="#a85aa6" opacity="0.4"/><ellipse cx="286" cy="60" rx="6.2" ry="5.1" fill="#a85aa6" opacity="0.4"/><ellipse cx="403" cy="210" rx="5.5" ry="6.1" fill="#a85aa6" opacity="0.4"/><ellipse cx="152" cy="71" rx="5.8" ry="4.1" fill="#a85aa6" opacity="0.4"/><ellipse cx="102" cy="124" rx="5.8" ry="4.4" fill="#a85aa6" opacity="0.4"/><ellipse cx="34" cy="206" rx="4.9" ry="5.4" fill="#a85aa6" opacity="0.4"/><ellipse cx="410" cy="143" rx="5.4" ry="4.9" fill="#a85aa6" opacity="0.4"/><ellipse cx="299" cy="107" rx="5.7" ry="5.4" fill="#a85aa6" opacity="0.4"/><ellipse cx="430" cy="166" rx="5.3" ry="5.2" fill="#a85aa6" opacity="0.4"/><ellipse cx="120" cy="105" rx="6.9" ry="6.3" fill="#a85aa6" opacity="0.4"/><ellipse cx="257" cy="57" rx="5.2" ry="4.9" fill="#a85aa6" opacity="0.4"/><ellipse cx="24" cy="176" rx="5.9" ry="4.3" fill="#a85aa6" opacity="0.4"/><ellipse cx="292" cy="96" rx="6.0" ry="5.1" fill="#a85aa6" opacity="0.4"/><ellipse cx="327" cy="128" rx="4.1" ry="2.9" fill="#a85aa6" opacity="0.4"/><ellipse cx="313" cy="142" rx="4.8" ry="4.2" fill="#a85aa6" opacity="0.4"/><ellipse cx="276" cy="84" rx="5.1" ry="4.2" fill="#a85aa6" opacity="0.4"/><ellipse cx="178" cy="124" rx="4.9" ry="4.2" fill="#a85aa6" opacity="0.4"/><ellipse cx="356" cy="78" rx="5.7" ry="5.7" fill="#a85aa6" opacity="0.4"/><ellipse cx="152" cy="88" rx="6.4" ry="5.1" fill="#a85aa6" opacity="0.4"/><ellipse cx="98" cy="128" rx="6.1" ry="4.5" fill="#a85aa6" opacity="0.4"/><ellipse cx="157" cy="99" rx="6.5" ry="5.7" fill="#a85aa6" opacity="0.4"/><ellipse cx="392" cy="111" rx="5.0" ry="4.8" fill="#a85aa6" opacity="0.4"/><ellipse cx="405" cy="150" rx="4.7" ry="3.5" fill="#a85aa6" opacity="0.4"/><ellipse cx="249" cy="74" rx="6.4" ry="6.6" fill="#a85aa6" opacity="0.4"/><ellipse cx="96" cy="110" rx="6.4" ry="6.1" fill="#a85aa6" opacity="0.4"/><ellipse cx="371" cy="120" rx="4.4" ry="3.6" fill="#a85aa6" opacity="0.4"/><ellipse cx="365" cy="109" rx="5.0" ry="4.4" fill="#a85aa6" opacity="0.4"/><ellipse cx="200" cy="100" rx="6.8" ry="5.2" fill="#a85aa6" opacity="0.4"/><ellipse cx="17" cy="222" rx="6.6" ry="7.3" fill="#a85aa6" opacity="0.4"/><ellipse cx="207" cy="156" rx="6.8" ry="5.3" fill="#a85aa6" opacity="0.4"/><ellipse cx="344" cy="156" rx="6.0" ry="5.4" fill="#a85aa6" opacity="0.4"/><ellipse cx="142" cy="103" rx="4.7" ry="3.4" fill="#a85aa6" opacity="0.4"/><ellipse cx="275" cy="81" rx="6.4" ry="4.6" fill="#a85aa6" opacity="0.4"/><ellipse cx="413" cy="181" rx="6.8" ry="7.2" fill="#a85aa6" opacity="0.4"/><ellipse cx="412" cy="167" rx="4.0" ry="4.0" fill="#a85aa6" opacity="0.4"/><ellipse cx="91" cy="114" rx="6.0" ry="5.4" fill="#a85aa6" opacity="0.4"/><ellipse cx="197" cy="156" rx="5.8" ry="4.9" fill="#a85aa6" opacity="0.4"/><ellipse cx="126" cy="167" rx="5.4" ry="5.5" fill="#a85aa6" opacity="0.4"/><ellipse cx="170" cy="82" rx="5.6" ry="5.8" fill="#a85aa6" opacity="0.4"/><ellipse cx="91" cy="175" rx="6.8" ry="6.9" fill="#a85aa6" opacity="0.4"/><ellipse cx="378" cy="85" rx="5.9" ry="6.2" fill="#a85aa6" opacity="0.4"/><ellipse cx="37" cy="127" rx="4.8" ry="4.4" fill="#a85aa6" opacity="0.4"/><ellipse cx="202" cy="270" rx="13" ry="3" fill="#c878c0" opacity=".6"/><ellipse cx="44" cy="255" rx="9" ry="3" fill="#c878c0" opacity=".6"/><ellipse cx="439" cy="286" rx="9" ry="4" fill="#c878c0" opacity=".6"/><ellipse cx="156" cy="263" rx="10" ry="4" fill="#c878c0" opacity=".6"/><ellipse cx="272" cy="265" rx="9" ry="4" fill="#c878c0" opacity=".6"/><ellipse cx="73" cy="273" rx="12" ry="4" fill="#c878c0" opacity=".6"/><ellipse cx="54" cy="257" rx="10" ry="4" fill="#c878c0" opacity=".6"/><ellipse cx="357" cy="266" rx="13" ry="4" fill="#c878c0" opacity=".6"/><ellipse cx="206" cy="266" rx="11" ry="4" fill="#c878c0" opacity=".6"/></g><rect x="0" y="0" width="456" height="340" filter="url(#nzd)"/><rect x="0" y="0" width="456" height="340" filter="url(#nzl)"/><g filter="url(#bl1)"><ellipse cx="220" cy="136" rx="4.6" ry="4.5" fill="#452650" opacity="0.65"/><ellipse cx="324" cy="118" rx="4.2" ry="3.8" fill="#452650" opacity="0.65"/><ellipse cx="222" cy="153" rx="4.9" ry="5.7" fill="#452650" opacity="0.65"/><ellipse cx="361" cy="155" rx="4.7" ry="4.3" fill="#452650" opacity="0.65"/><ellipse cx="107" cy="177" rx="6.2" ry="6.8" fill="#452650" opacity="0.65"/><ellipse cx="314" cy="114" rx="5.8" ry="5.7" fill="#452650" opacity="0.65"/><ellipse cx="99" cy="175" rx="4.4" ry="4.7" fill="#452650" opacity="0.65"/><ellipse cx="77" cy="187" rx="4.2" ry="3.2" fill="#452650" opacity="0.65"/><ellipse cx="395" cy="190" rx="6.1" ry="4.6" fill="#452650" opacity="0.65"/><ellipse cx="381" cy="184" rx="5.7" ry="6.4" fill="#452650" opacity="0.65"/><ellipse cx="422" cy="185" rx="4.1" ry="4.4" fill="#452650" opacity="0.65"/><ellipse cx="254" cy="125" rx="5.8" ry="4.4" fill="#452650" opacity="0.65"/><ellipse cx="345" cy="157" rx="4.8" ry="4.7" fill="#452650" opacity="0.65"/><ellipse cx="375" cy="177" rx="4.6" ry="3.6" fill="#452650" opacity="0.65"/><ellipse cx="155" cy="143" rx="5.0" ry="4.4" fill="#452650" opacity="0.65"/><ellipse cx="211" cy="132" rx="4.9" ry="4.4" fill="#452650" opacity="0.65"/><ellipse cx="92" cy="158" rx="5.0" ry="5.4" fill="#452650" opacity="0.65"/><ellipse cx="121" cy="165" rx="5.7" ry="6.2" fill="#452650" opacity="0.65"/><ellipse cx="316" cy="116" rx="5.6" ry="6.4" fill="#452650" opacity="0.65"/><ellipse cx="117" cy="166" rx="4.2" ry="4.6" fill="#452650" opacity="0.65"/><ellipse cx="408" cy="185" rx="5.8" ry="4.6" fill="#452650" opacity="0.65"/><ellipse cx="162" cy="150" rx="4.5" ry="4.5" fill="#452650" opacity="0.65"/><ellipse cx="180" cy="148" rx="6.4" ry="5.4" fill="#452650" opacity="0.65"/><ellipse cx="328" cy="143" rx="5.0" ry="5.7" fill="#452650" opacity="0.65"/><ellipse cx="282" cy="120" rx="4.1" ry="3.8" fill="#452650" opacity="0.65"/><ellipse cx="205" cy="147" rx="4.4" ry="3.9" fill="#452650" opacity="0.65"/><ellipse cx="182" cy="146" rx="6.5" ry="6.1" fill="#452650" opacity="0.65"/><ellipse cx="288" cy="115" rx="5.2" ry="5.8" fill="#452650" opacity="0.65"/><ellipse cx="372" cy="168" rx="5.8" ry="6.5" fill="#452650" opacity="0.65"/><ellipse cx="212" cy="137" rx="5.8" ry="6.9" fill="#452650" opacity="0.65"/><ellipse cx="218" cy="129" rx="6.2" ry="6.4" fill="#744a80" opacity="0.45"/><ellipse cx="432" cy="195" rx="6.6" ry="5.4" fill="#744a80" opacity="0.45"/><ellipse cx="97" cy="164" rx="6.1" ry="6.9" fill="#744a80" opacity="0.45"/><ellipse cx="406" cy="189" rx="4.8" ry="5.4" fill="#744a80" opacity="0.45"/><ellipse cx="151" cy="125" rx="4.3" ry="3.2" fill="#744a80" opacity="0.45"/><ellipse cx="378" cy="177" rx="4.9" ry="4.3" fill="#744a80" opacity="0.45"/><ellipse cx="267" cy="114" rx="5.0" ry="4.6" fill="#744a80" opacity="0.45"/><ellipse cx="226" cy="125" rx="4.6" ry="4.6" fill="#744a80" opacity="0.45"/><ellipse cx="431" cy="176" rx="4.4" ry="3.6" fill="#744a80" opacity="0.45"/><ellipse cx="304" cy="120" rx="4.3" ry="5.0" fill="#744a80" opacity="0.45"/><ellipse cx="410" cy="206" rx="5.1" ry="5.6" fill="#744a80" opacity="0.45"/><ellipse cx="344" cy="158" rx="4.9" ry="5.1" fill="#744a80" opacity="0.45"/><ellipse cx="300" cy="113" rx="6.3" ry="7.4" fill="#744a80" opacity="0.45"/><ellipse cx="308" cy="103" rx="5.6" ry="4.2" fill="#744a80" opacity="0.45"/><ellipse cx="230" cy="115" rx="6.0" ry="5.9" fill="#744a80" opacity="0.45"/><ellipse cx="94" cy="182" rx="5.9" ry="6.0" fill="#744a80" opacity="0.45"/><ellipse cx="93" cy="181" rx="4.4" ry="5.1" fill="#744a80" opacity="0.45"/><ellipse cx="77" cy="164" rx="5.0" ry="5.3" fill="#744a80" opacity="0.45"/><ellipse cx="275" cy="95" rx="5.4" ry="4.6" fill="#744a80" opacity="0.45"/><ellipse cx="92" cy="162" rx="4.2" ry="4.4" fill="#744a80" opacity="0.45"/><ellipse cx="343" cy="121" rx="5.1" ry="4.2" fill="#744a80" opacity="0.45"/><ellipse cx="182" cy="128" rx="6.6" ry="4.8" fill="#744a80" opacity="0.45"/><ellipse cx="235" cy="126" rx="5.1" ry="4.4" fill="#744a80" opacity="0.45"/><ellipse cx="190" cy="152" rx="5.6" ry="6.1" fill="#744a80" opacity="0.45"/><ellipse cx="169" cy="141" rx="4.8" ry="3.6" fill="#744a80" opacity="0.45"/><ellipse cx="64" cy="175" rx="6.3" ry="6.7" fill="#744a80" opacity="0.45"/><ellipse cx="95" cy="170" rx="6.2" ry="6.9" fill="#744a80" opacity="0.45"/><ellipse cx="341" cy="148" rx="5.8" ry="4.5" fill="#744a80" opacity="0.45"/><ellipse cx="188" cy="137" rx="5.7" ry="4.6" fill="#744a80" opacity="0.45"/><ellipse cx="124" cy="165" rx="6.3" ry="4.5" fill="#744a80" opacity="0.45"/></g></g></svg><svg x="467" y="184" width="86" height="64" viewBox="0 0 455.8 339.2" overflow="hidden"><defs><clipPath id="cp4"><rect x="16.2" y="14.3" width="445" height="287.8"/></clipPath></defs><g clip-path="url(#cp4)"><rect x="0" y="0" width="460" height="340" fill="#d5b4dd"/><g filter="url(#bl4)"><path d="M15 10 L456 10 L456 60 L300 95 L15 110Z" fill="#dec4e5"/><path d="M15 10 L456 10 L456 30 L15 45Z" fill="#e6d0ea" opacity="0.9"/><path d="M200 40 L456 20 L456 50 L200 75Z" fill="#ead6ee" opacity="0.7"/><path d="M11 203C24 202 71 195 91 195C111 195 120 197 131 203C142 209 147 222 156 231C165 240 173 255 184 257C195 259 211 252 220 243C229 234 227 216 236 203C245 190 265 170 276 162C287 154 290 153 300 154C310 155 321 165 333 170C345 175 361 178 373 183C385 188 397 193 405 203C413 213 416 233 421 243C426 253 431 260 437 263C443 266 453 263 456 263L456 340L15 340Z" fill="#c8a6d2" opacity="0.55"/><path d="M11 243C24 242 71 235 91 235C111 235 120 237 131 243C142 249 147 262 156 271C165 280 173 295 184 297C195 299 211 292 220 283C229 274 227 256 236 243C245 230 265 210 276 202C287 194 290 193 300 194C310 195 321 205 333 210C345 215 361 218 373 223C385 228 397 233 405 243C413 253 416 273 421 283C426 293 431 300 437 303C443 306 453 303 456 303L456 340L15 340Z" fill="#e4d4ed"/></g><g filter="url(#bl2)"><ellipse cx="119" cy="113" rx="5.6" ry="4.3" fill="#9a70ac" opacity="0.28"/><ellipse cx="44" cy="154" rx="7.7" ry="7.8" fill="#9a70ac" opacity="0.28"/><ellipse cx="352" cy="106" rx="6.1" ry="5.0" fill="#9a70ac" opacity="0.28"/><ellipse cx="91" cy="116" rx="4.9" ry="5.2" fill="#9a70ac" opacity="0.28"/><ellipse cx="381" cy="186" rx="7.2" ry="5.6" fill="#9a70ac" opacity="0.28"/><ellipse cx="152" cy="194" rx="6.9" ry="7.2" fill="#9a70ac" opacity="0.28"/><ellipse cx="403" cy="88" rx="6.4" ry="6.2" fill="#9a70ac" opacity="0.28"/><ellipse cx="238" cy="114" rx="5.9" ry="4.3" fill="#9a70ac" opacity="0.28"/><ellipse cx="427" cy="248" rx="6.2" ry="5.1" fill="#9a70ac" opacity="0.28"/><ellipse cx="416" cy="177" rx="7.5" ry="7.8" fill="#9a70ac" opacity="0.28"/><ellipse cx="239" cy="146" rx="6.4" ry="5.6" fill="#9a70ac" opacity="0.28"/><ellipse cx="86" cy="139" rx="7.3" ry="5.2" fill="#9a70ac" opacity="0.28"/><ellipse cx="35" cy="182" rx="5.1" ry="4.7" fill="#9a70ac" opacity="0.28"/><ellipse cx="223" cy="149" rx="8.0" ry="6.2" fill="#9a70ac" opacity="0.28"/><ellipse cx="197" cy="131" rx="6.5" ry="5.3" fill="#9a70ac" opacity="0.28"/><ellipse cx="172" cy="226" rx="5.3" ry="4.9" fill="#9a70ac" opacity="0.28"/><ellipse cx="414" cy="92" rx="4.2" ry="3.4" fill="#9a70ac" opacity="0.28"/><ellipse cx="352" cy="154" rx="4.9" ry="4.1" fill="#9a70ac" opacity="0.28"/><ellipse cx="93" cy="157" rx="4.2" ry="4.1" fill="#9a70ac" opacity="0.28"/><ellipse cx="410" cy="233" rx="6.9" ry="7.5" fill="#9a70ac" opacity="0.28"/><ellipse cx="23" cy="143" rx="7.9" ry="7.9" fill="#9a70ac" opacity="0.28"/><ellipse cx="196" cy="267" rx="6.5" ry="6.7" fill="#9a70ac" opacity="0.28"/><ellipse cx="144" cy="126" rx="5.8" ry="4.4" fill="#9a70ac" opacity="0.28"/><ellipse cx="183" cy="274" rx="5.3" ry="3.7" fill="#9a70ac" opacity="0.28"/><ellipse cx="35" cy="128" rx="7.1" ry="6.0" fill="#9a70ac" opacity="0.28"/><ellipse cx="143" cy="112" rx="7.9" ry="6.9" fill="#9a70ac" opacity="0.28"/><ellipse cx="107" cy="109" rx="4.2" ry="3.2" fill="#9a70ac" opacity="0.28"/><ellipse cx="313" cy="98" rx="4.2" ry="3.7" fill="#9a70ac" opacity="0.28"/><ellipse cx="125" cy="226" rx="4.5" ry="4.1" fill="#9a70ac" opacity="0.28"/><ellipse cx="356" cy="130" rx="8.0" ry="7.1" fill="#9a70ac" opacity="0.28"/><ellipse cx="122" cy="152" rx="4.1" ry="3.6" fill="#9a70ac" opacity="0.28"/><ellipse cx="125" cy="213" rx="7.3" ry="6.6" fill="#9a70ac" opacity="0.28"/><ellipse cx="29" cy="139" rx="5.0" ry="3.9" fill="#9a70ac" opacity="0.28"/><ellipse cx="117" cy="209" rx="4.6" ry="3.3" fill="#9a70ac" opacity="0.28"/><ellipse cx="424" cy="185" rx="8.0" ry="6.9" fill="#9a70ac" opacity="0.28"/><ellipse cx="412" cy="187" rx="7.2" ry="7.1" fill="#9a70ac" opacity="0.28"/><ellipse cx="233" cy="104" rx="4.8" ry="5.1" fill="#9a70ac" opacity="0.28"/><ellipse cx="412" cy="232" rx="5.3" ry="5.1" fill="#9a70ac" opacity="0.28"/><ellipse cx="368" cy="160" rx="7.3" ry="6.6" fill="#9a70ac" opacity="0.28"/><ellipse cx="304" cy="150" rx="5.1" ry="5.4" fill="#9a70ac" opacity="0.28"/><ellipse cx="437" cy="88" rx="7.9" ry="8.6" fill="#9a70ac" opacity="0.28"/><ellipse cx="310" cy="88" rx="7.6" ry="5.7" fill="#9a70ac" opacity="0.28"/><ellipse cx="442" cy="216" rx="4.2" ry="3.3" fill="#9a70ac" opacity="0.28"/><ellipse cx="295" cy="139" rx="7.0" ry="7.5" fill="#9a70ac" opacity="0.28"/><ellipse cx="111" cy="102" rx="7.7" ry="5.4" fill="#9a70ac" opacity="0.28"/><ellipse cx="402" cy="92" rx="7.2" ry="7.3" fill="#9a70ac" opacity="0.28"/><ellipse cx="402" cy="158" rx="7.5" ry="5.9" fill="#9a70ac" opacity="0.28"/><ellipse cx="311" cy="117" rx="7.6" ry="7.6" fill="#9a70ac" opacity="0.28"/><ellipse cx="223" cy="180" rx="4.1" ry="2.9" fill="#9a70ac" opacity="0.28"/><ellipse cx="277" cy="135" rx="7.5" ry="7.0" fill="#9a70ac" opacity="0.28"/><ellipse cx="76" cy="147" rx="7.1" ry="6.4" fill="#9a70ac" opacity="0.28"/><ellipse cx="20" cy="208" rx="7.3" ry="5.4" fill="#9a70ac" opacity="0.28"/><ellipse cx="255" cy="134" rx="7.1" ry="5.9" fill="#9a70ac" opacity="0.28"/><ellipse cx="118" cy="161" rx="7.9" ry="5.8" fill="#9a70ac" opacity="0.28"/><ellipse cx="65" cy="178" rx="7.5" ry="6.8" fill="#9a70ac" opacity="0.28"/><ellipse cx="206" cy="248" rx="7.1" ry="5.2" fill="#9a70ac" opacity="0.28"/><ellipse cx="404" cy="105" rx="5.2" ry="5.4" fill="#9a70ac" opacity="0.28"/><ellipse cx="201" cy="239" rx="4.7" ry="4.9" fill="#9a70ac" opacity="0.28"/><ellipse cx="93" cy="120" rx="6.0" ry="5.0" fill="#9a70ac" opacity="0.28"/><ellipse cx="254" cy="198" rx="6.8" ry="4.8" fill="#9a70ac" opacity="0.28"/><ellipse cx="153" cy="182" rx="5.9" ry="5.9" fill="#9a70ac" opacity="0.28"/><ellipse cx="229" cy="102" rx="5.0" ry="5.2" fill="#9a70ac" opacity="0.28"/><ellipse cx="172" cy="230" rx="7.9" ry="7.6" fill="#9a70ac" opacity="0.28"/><ellipse cx="313" cy="145" rx="5.3" ry="5.6" fill="#9a70ac" opacity="0.28"/><ellipse cx="221" cy="250" rx="5.2" ry="5.5" fill="#9a70ac" opacity="0.28"/><ellipse cx="362" cy="156" rx="5.8" ry="4.4" fill="#9a70ac" opacity="0.28"/><ellipse cx="355" cy="124" rx="6.6" ry="5.0" fill="#9a70ac" opacity="0.28"/><ellipse cx="51" cy="124" rx="7.2" ry="5.6" fill="#9a70ac" opacity="0.28"/><ellipse cx="413" cy="138" rx="6.3" ry="5.3" fill="#9a70ac" opacity="0.28"/><ellipse cx="289" cy="94" rx="5.6" ry="6.0" fill="#9a70ac" opacity="0.28"/><ellipse cx="94" cy="180" rx="5.3" ry="4.4" fill="#9a70ac" opacity="0.28"/><ellipse cx="25" cy="111" rx="7.8" ry="8.0" fill="#9a70ac" opacity="0.28"/><ellipse cx="368" cy="182" rx="7.8" ry="6.0" fill="#9a70ac" opacity="0.28"/><ellipse cx="273" cy="138" rx="6.3" ry="6.8" fill="#9a70ac" opacity="0.28"/><ellipse cx="350" cy="197" rx="4.5" ry="4.3" fill="#9a70ac" opacity="0.28"/><ellipse cx="313" cy="159" rx="6.5" ry="6.7" fill="#9a70ac" opacity="0.28"/><ellipse cx="149" cy="237" rx="5.6" ry="5.3" fill="#9a70ac" opacity="0.28"/><ellipse cx="411" cy="192" rx="5.2" ry="4.1" fill="#9a70ac" opacity="0.28"/><ellipse cx="159" cy="198" rx="8.0" ry="8.5" fill="#9a70ac" opacity="0.28"/><ellipse cx="191" cy="168" rx="7.3" ry="5.9" fill="#9a70ac" opacity="0.28"/><ellipse cx="196" cy="96" rx="5.7" ry="5.3" fill="#e4cae8" opacity="0.3"/><ellipse cx="321" cy="148" rx="6.5" ry="7.0" fill="#e4cae8" opacity="0.3"/><ellipse cx="290" cy="100" rx="5.3" ry="5.7" fill="#e4cae8" opacity="0.3"/><ellipse cx="451" cy="271" rx="7.4" ry="6.1" fill="#e4cae8" opacity="0.3"/><ellipse cx="55" cy="137" rx="5.9" ry="6.3" fill="#e4cae8" opacity="0.3"/><ellipse cx="409" cy="201" rx="5.6" ry="4.4" fill="#e4cae8" opacity="0.3"/><ellipse cx="147" cy="238" rx="5.7" ry="5.7" fill="#e4cae8" opacity="0.3"/><ellipse cx="315" cy="139" rx="8.8" ry="7.1" fill="#e4cae8" opacity="0.3"/><ellipse cx="246" cy="109" rx="5.4" ry="3.8" fill="#e4cae8" opacity="0.3"/><ellipse cx="155" cy="116" rx="5.2" ry="5.8" fill="#e4cae8" opacity="0.3"/><ellipse cx="142" cy="225" rx="7.8" ry="7.7" fill="#e4cae8" opacity="0.3"/><ellipse cx="304" cy="176" rx="8.5" ry="8.4" fill="#e4cae8" opacity="0.3"/><ellipse cx="262" cy="167" rx="7.9" ry="7.3" fill="#e4cae8" opacity="0.3"/><ellipse cx="237" cy="111" rx="8.4" ry="7.5" fill="#e4cae8" opacity="0.3"/><ellipse cx="45" cy="127" rx="8.5" ry="6.8" fill="#e4cae8" opacity="0.3"/><ellipse cx="188" cy="221" rx="8.4" ry="7.0" fill="#e4cae8" opacity="0.3"/><ellipse cx="186" cy="174" rx="5.1" ry="5.4" fill="#e4cae8" opacity="0.3"/><ellipse cx="23" cy="222" rx="5.6" ry="4.3" fill="#e4cae8" opacity="0.3"/><ellipse cx="389" cy="193" rx="5.9" ry="5.5" fill="#e4cae8" opacity="0.3"/><ellipse cx="225" cy="209" rx="5.7" ry="5.9" fill="#e4cae8" opacity="0.3"/><ellipse cx="454" cy="224" rx="8.7" ry="9.3" fill="#e4cae8" opacity="0.3"/><ellipse cx="182" cy="252" rx="8.3" ry="7.8" fill="#e4cae8" opacity="0.3"/><ellipse cx="62" cy="178" rx="8.6" ry="7.1" fill="#e4cae8" opacity="0.3"/><ellipse cx="300" cy="169" rx="7.4" ry="5.3" fill="#e4cae8" opacity="0.3"/><ellipse cx="294" cy="109" rx="8.4" ry="8.1" fill="#e4cae8" opacity="0.3"/><ellipse cx="151" cy="234" rx="7.5" ry="6.3" fill="#e4cae8" opacity="0.3"/><ellipse cx="383" cy="199" rx="8.6" ry="9.0" fill="#e4cae8" opacity="0.3"/><ellipse cx="305" cy="152" rx="7.4" ry="6.8" fill="#e4cae8" opacity="0.3"/><ellipse cx="450" cy="147" rx="5.3" ry="5.2" fill="#e4cae8" opacity="0.3"/><ellipse cx="235" cy="167" rx="7.4" ry="5.9" fill="#e4cae8" opacity="0.3"/><ellipse cx="104" cy="111" rx="8.1" ry="8.6" fill="#e4cae8" opacity="0.3"/><ellipse cx="322" cy="95" rx="8.9" ry="9.2" fill="#e4cae8" opacity="0.3"/><ellipse cx="240" cy="90" rx="8.4" ry="8.0" fill="#e4cae8" opacity="0.3"/><ellipse cx="289" cy="87" rx="7.9" ry="5.7" fill="#e4cae8" opacity="0.3"/><ellipse cx="226" cy="114" rx="6.4" ry="6.8" fill="#e4cae8" opacity="0.3"/><ellipse cx="345" cy="177" rx="6.2" ry="5.3" fill="#e4cae8" opacity="0.3"/><ellipse cx="282" cy="89" rx="6.6" ry="7.2" fill="#e4cae8" opacity="0.3"/><ellipse cx="348" cy="183" rx="6.2" ry="6.0" fill="#e4cae8" opacity="0.3"/><ellipse cx="363" cy="167" rx="6.7" ry="5.2" fill="#e4cae8" opacity="0.3"/><ellipse cx="23" cy="214" rx="8.7" ry="7.1" fill="#e4cae8" opacity="0.3"/></g><rect x="0" y="0" width="456" height="340" filter="url(#nzd)"/><rect x="0" y="0" width="456" height="340" filter="url(#nzl)"/><g filter="url(#bl1)"><ellipse cx="348" cy="190" rx="9.4" ry="8.1" fill="#35243f" opacity="0.68"/><ellipse cx="288" cy="191" rx="7.0" ry="6.7" fill="#35243f" opacity="0.68"/><ellipse cx="28" cy="227" rx="9.7" ry="7.4" fill="#35243f" opacity="0.68"/><ellipse cx="349" cy="209" rx="6.3" ry="7.6" fill="#35243f" opacity="0.68"/><ellipse cx="88" cy="226" rx="9.7" ry="10.1" fill="#35243f" opacity="0.68"/><ellipse cx="408" cy="239" rx="8.0" ry="6.1" fill="#35243f" opacity="0.68"/><ellipse cx="165" cy="239" rx="6.7" ry="5.5" fill="#35243f" opacity="0.68"/><ellipse cx="387" cy="225" rx="6.5" ry="7.7" fill="#35243f" opacity="0.68"/><ellipse cx="146" cy="234" rx="9.6" ry="7.1" fill="#35243f" opacity="0.68"/><ellipse cx="388" cy="213" rx="6.7" ry="7.1" fill="#35243f" opacity="0.68"/><ellipse cx="27" cy="228" rx="6.8" ry="4.9" fill="#35243f" opacity="0.68"/><ellipse cx="158" cy="253" rx="7.3" ry="8.7" fill="#35243f" opacity="0.68"/><ellipse cx="283" cy="168" rx="6.7" ry="5.4" fill="#35243f" opacity="0.68"/><ellipse cx="437" cy="309" rx="9.8" ry="10.2" fill="#35243f" opacity="0.68"/><ellipse cx="447" cy="307" rx="8.8" ry="9.1" fill="#35243f" opacity="0.68"/><ellipse cx="387" cy="225" rx="6.4" ry="5.1" fill="#35243f" opacity="0.68"/><ellipse cx="76" cy="211" rx="8.2" ry="7.2" fill="#35243f" opacity="0.68"/><ellipse cx="343" cy="201" rx="9.4" ry="10.1" fill="#35243f" opacity="0.68"/><ellipse cx="32" cy="231" rx="7.0" ry="6.9" fill="#35243f" opacity="0.68"/><ellipse cx="101" cy="228" rx="8.5" ry="7.4" fill="#35243f" opacity="0.68"/><ellipse cx="175" cy="269" rx="6.8" ry="5.9" fill="#35243f" opacity="0.68"/><ellipse cx="448" cy="268" rx="6.9" ry="4.9" fill="#35243f" opacity="0.68"/><ellipse cx="99" cy="229" rx="9.8" ry="9.3" fill="#35243f" opacity="0.68"/><ellipse cx="33" cy="214" rx="7.2" ry="7.7" fill="#35243f" opacity="0.68"/><ellipse cx="188" cy="287" rx="7.9" ry="6.9" fill="#35243f" opacity="0.68"/><ellipse cx="212" cy="279" rx="6.5" ry="4.7" fill="#35243f" opacity="0.68"/><ellipse cx="361" cy="204" rx="6.5" ry="5.5" fill="#35243f" opacity="0.68"/><ellipse cx="261" cy="194" rx="9.6" ry="9.0" fill="#35243f" opacity="0.68"/><ellipse cx="444" cy="283" rx="8.5" ry="8.5" fill="#35243f" opacity="0.68"/><ellipse cx="279" cy="186" rx="8.9" ry="6.3" fill="#35243f" opacity="0.68"/><ellipse cx="208" cy="275" rx="6.2" ry="4.9" fill="#35243f" opacity="0.68"/><ellipse cx="141" cy="235" rx="7.7" ry="6.6" fill="#35243f" opacity="0.68"/><ellipse cx="295" cy="186" rx="8.7" ry="8.5" fill="#35243f" opacity="0.68"/><ellipse cx="438" cy="296" rx="9.7" ry="8.1" fill="#35243f" opacity="0.68"/><ellipse cx="163" cy="252" rx="7.5" ry="8.4" fill="#35243f" opacity="0.68"/><ellipse cx="102" cy="221" rx="7.9" ry="6.0" fill="#35243f" opacity="0.68"/><ellipse cx="404" cy="207" rx="6.6" ry="6.9" fill="#35243f" opacity="0.68"/><ellipse cx="278" cy="172" rx="6.2" ry="6.9" fill="#35243f" opacity="0.68"/><ellipse cx="401" cy="245" rx="9.1" ry="9.2" fill="#35243f" opacity="0.68"/><ellipse cx="255" cy="220" rx="7.1" ry="5.1" fill="#35243f" opacity="0.68"/><ellipse cx="225" cy="261" rx="7.9" ry="6.6" fill="#35243f" opacity="0.68"/><ellipse cx="320" cy="185" rx="9.8" ry="11.3" fill="#35243f" opacity="0.68"/><ellipse cx="142" cy="241" rx="8.1" ry="9.1" fill="#35243f" opacity="0.68"/><ellipse cx="388" cy="218" rx="6.3" ry="5.8" fill="#35243f" opacity="0.68"/><ellipse cx="50" cy="207" rx="7.1" ry="8.0" fill="#35243f" opacity="0.68"/><ellipse cx="436" cy="297" rx="9.3" ry="7.4" fill="#35243f" opacity="0.68"/><ellipse cx="420" cy="295" rx="6.0" ry="4.2" fill="#35243f" opacity="0.68"/><ellipse cx="144" cy="228" rx="8.1" ry="7.4" fill="#35243f" opacity="0.68"/><ellipse cx="56" cy="216" rx="8.5" ry="8.1" fill="#35243f" opacity="0.68"/><ellipse cx="257" cy="197" rx="8.8" ry="6.4" fill="#35243f" opacity="0.68"/><ellipse cx="207" cy="277" rx="9.0" ry="7.8" fill="#35243f" opacity="0.68"/><ellipse cx="165" cy="268" rx="7.1" ry="7.1" fill="#35243f" opacity="0.68"/><ellipse cx="67" cy="221" rx="9.8" ry="7.6" fill="#35243f" opacity="0.68"/><ellipse cx="354" cy="200" rx="8.2" ry="7.5" fill="#35243f" opacity="0.68"/><ellipse cx="149" cy="240" rx="8.1" ry="7.8" fill="#35243f" opacity="0.68"/><ellipse cx="124" cy="239" rx="8.5" ry="6.7" fill="#35243f" opacity="0.68"/><ellipse cx="228" cy="243" rx="8.3" ry="8.2" fill="#35243f" opacity="0.68"/><ellipse cx="101" cy="214" rx="9.8" ry="10.2" fill="#35243f" opacity="0.68"/><ellipse cx="335" cy="206" rx="7.3" ry="6.2" fill="#35243f" opacity="0.68"/><ellipse cx="154" cy="253" rx="7.2" ry="6.2" fill="#35243f" opacity="0.68"/><ellipse cx="107" cy="217" rx="7.5" ry="7.7" fill="#35243f" opacity="0.68"/><ellipse cx="154" cy="256" rx="9.5" ry="10.4" fill="#35243f" opacity="0.68"/><ellipse cx="160" cy="263" rx="6.4" ry="7.6" fill="#35243f" opacity="0.68"/><ellipse cx="30" cy="222" rx="6.0" ry="6.8" fill="#35243f" opacity="0.68"/><ellipse cx="16" cy="199" rx="6.9" ry="5.7" fill="#6e5084" opacity="0.42"/><ellipse cx="442" cy="255" rx="7.6" ry="6.2" fill="#6e5084" opacity="0.42"/><ellipse cx="210" cy="252" rx="6.4" ry="7.0" fill="#6e5084" opacity="0.42"/><ellipse cx="57" cy="194" rx="6.2" ry="4.4" fill="#6e5084" opacity="0.42"/><ellipse cx="453" cy="250" rx="8.2" ry="9.8" fill="#6e5084" opacity="0.42"/><ellipse cx="166" cy="255" rx="7.4" ry="7.7" fill="#6e5084" opacity="0.42"/><ellipse cx="15" cy="194" rx="8.3" ry="7.8" fill="#6e5084" opacity="0.42"/><ellipse cx="428" cy="275" rx="7.7" ry="8.2" fill="#6e5084" opacity="0.42"/><ellipse cx="188" cy="272" rx="6.8" ry="4.9" fill="#6e5084" opacity="0.42"/><ellipse cx="141" cy="227" rx="6.5" ry="6.0" fill="#6e5084" opacity="0.42"/><ellipse cx="340" cy="180" rx="7.3" ry="7.5" fill="#6e5084" opacity="0.42"/><ellipse cx="407" cy="187" rx="7.6" ry="8.8" fill="#6e5084" opacity="0.42"/><ellipse cx="60" cy="228" rx="9.9" ry="11.1" fill="#6e5084" opacity="0.42"/><ellipse cx="328" cy="161" rx="7.7" ry="8.2" fill="#6e5084" opacity="0.42"/><ellipse cx="402" cy="191" rx="9.7" ry="8.2" fill="#6e5084" opacity="0.42"/><ellipse cx="163" cy="235" rx="6.1" ry="7.0" fill="#6e5084" opacity="0.42"/><ellipse cx="293" cy="158" rx="6.7" ry="6.3" fill="#6e5084" opacity="0.42"/><ellipse cx="402" cy="199" rx="7.4" ry="6.8" fill="#6e5084" opacity="0.42"/><ellipse cx="199" cy="261" rx="9.5" ry="6.7" fill="#6e5084" opacity="0.42"/><ellipse cx="323" cy="166" rx="9.1" ry="8.5" fill="#6e5084" opacity="0.42"/><ellipse cx="342" cy="178" rx="7.4" ry="6.2" fill="#6e5084" opacity="0.42"/><ellipse cx="331" cy="182" rx="8.3" ry="8.5" fill="#6e5084" opacity="0.42"/><ellipse cx="445" cy="272" rx="9.9" ry="11.5" fill="#6e5084" opacity="0.42"/><ellipse cx="342" cy="156" rx="7.4" ry="7.1" fill="#6e5084" opacity="0.42"/><ellipse cx="348" cy="187" rx="9.0" ry="9.3" fill="#6e5084" opacity="0.42"/><ellipse cx="127" cy="181" rx="8.5" ry="6.7" fill="#6e5084" opacity="0.42"/><ellipse cx="300" cy="161" rx="9.8" ry="11.1" fill="#6e5084" opacity="0.42"/><ellipse cx="149" cy="232" rx="6.2" ry="6.9" fill="#6e5084" opacity="0.42"/><ellipse cx="355" cy="197" rx="9.4" ry="9.2" fill="#6e5084" opacity="0.42"/><ellipse cx="136" cy="234" rx="6.2" ry="4.6" fill="#6e5084" opacity="0.42"/><ellipse cx="209" cy="250" rx="6.9" ry="7.6" fill="#6e5084" opacity="0.42"/><ellipse cx="43" cy="188" rx="8.5" ry="6.7" fill="#6e5084" opacity="0.42"/><ellipse cx="17" cy="216" rx="6.9" ry="4.9" fill="#6e5084" opacity="0.42"/><ellipse cx="228" cy="251" rx="7.4" ry="7.3" fill="#6e5084" opacity="0.42"/><ellipse cx="270" cy="167" rx="7.4" ry="7.5" fill="#6e5084" opacity="0.42"/><ellipse cx="67" cy="175" rx="7.0" ry="5.2" fill="#6e5084" opacity="0.42"/><ellipse cx="395" cy="192" rx="9.5" ry="8.5" fill="#6e5084" opacity="0.42"/><ellipse cx="106" cy="221" rx="7.0" ry="6.6" fill="#6e5084" opacity="0.42"/></g></g></svg><svg x="467" y="241" width="86" height="64" viewBox="0 0 455.8 339.2" overflow="hidden"><defs><clipPath id="cp5"><rect x="16.2" y="10.6" width="445" height="288.8"/></clipPath></defs><g clip-path="url(#cp5)"><rect x="0" y="0" width="460" height="340" fill="#d2a4d3"/><g filter="url(#bl4)"><path d="M15 10 L456 10 L456 70 L250 95 L15 100Z" fill="#dcb8de"/><path d="M15 10 L456 10 L456 35 L15 50Z" fill="#e6cbe7" opacity="0.9"/><path d="M15 176C28 172 68 155 91 152C114 149 137 162 156 160C175 158 188 145 204 143C220 141 233 146 252 147C271 148 296 154 316 152C336 150 354 138 373 136C392 134 415 142 429 143C443 144 452 140 456 140L456 340L15 340Z" fill="#b583bb" opacity="0.4"/><path d="M118 300C120 292 126 266 132 250C138 234 146 218 156 205C166 192 182 179 192 172C202 165 206 164 215 165C224 166 237 169 245 175C253 181 260 189 264 200C268 211 264 229 267 240C270 251 274 260 285 268C296 276 317 284 333 287C349 290 368 289 381 284C394 279 405 269 413 258C421 247 422 228 429 216C436 204 452 190 456 185L456 340L118 340Z" fill="#f3e4f3"/><path d="M430 215 L456 185 L456 340 L420 340Z" fill="#ecd2ec" opacity="0.9"/></g><g filter="url(#bl2)"><ellipse cx="290" cy="134" rx="7.2" ry="7.7" fill="#8a4f95" opacity="0.25"/><ellipse cx="341" cy="140" rx="4.1" ry="3.6" fill="#8a4f95" opacity="0.25"/><ellipse cx="431" cy="121" rx="7.6" ry="5.7" fill="#8a4f95" opacity="0.25"/><ellipse cx="222" cy="104" rx="6.2" ry="5.7" fill="#8a4f95" opacity="0.25"/><ellipse cx="21" cy="116" rx="5.1" ry="5.5" fill="#8a4f95" opacity="0.25"/><ellipse cx="353" cy="94" rx="7.2" ry="5.4" fill="#8a4f95" opacity="0.25"/><ellipse cx="287" cy="96" rx="4.0" ry="4.2" fill="#8a4f95" opacity="0.25"/><ellipse cx="107" cy="108" rx="7.9" ry="8.3" fill="#8a4f95" opacity="0.25"/><ellipse cx="143" cy="156" rx="6.2" ry="6.0" fill="#8a4f95" opacity="0.25"/><ellipse cx="105" cy="150" rx="6.8" ry="7.3" fill="#8a4f95" opacity="0.25"/><ellipse cx="409" cy="100" rx="5.4" ry="4.2" fill="#8a4f95" opacity="0.25"/><ellipse cx="79" cy="101" rx="5.2" ry="4.9" fill="#8a4f95" opacity="0.25"/><ellipse cx="16" cy="151" rx="5.4" ry="4.4" fill="#8a4f95" opacity="0.25"/><ellipse cx="376" cy="109" rx="5.3" ry="4.7" fill="#8a4f95" opacity="0.25"/><ellipse cx="326" cy="90" rx="7.9" ry="5.6" fill="#8a4f95" opacity="0.25"/><ellipse cx="346" cy="135" rx="4.1" ry="4.1" fill="#8a4f95" opacity="0.25"/><ellipse cx="176" cy="127" rx="4.0" ry="2.9" fill="#8a4f95" opacity="0.25"/><ellipse cx="95" cy="150" rx="4.8" ry="4.8" fill="#8a4f95" opacity="0.25"/><ellipse cx="425" cy="139" rx="5.4" ry="4.5" fill="#8a4f95" opacity="0.25"/><ellipse cx="246" cy="134" rx="4.4" ry="4.4" fill="#8a4f95" opacity="0.25"/><ellipse cx="367" cy="130" rx="4.1" ry="4.5" fill="#8a4f95" opacity="0.25"/><ellipse cx="55" cy="120" rx="6.4" ry="6.9" fill="#8a4f95" opacity="0.25"/><ellipse cx="165" cy="152" rx="6.2" ry="5.1" fill="#8a4f95" opacity="0.25"/><ellipse cx="155" cy="105" rx="4.3" ry="3.3" fill="#8a4f95" opacity="0.25"/><ellipse cx="319" cy="151" rx="4.6" ry="3.3" fill="#8a4f95" opacity="0.25"/><ellipse cx="450" cy="112" rx="5.6" ry="4.5" fill="#8a4f95" opacity="0.25"/><ellipse cx="277" cy="138" rx="5.8" ry="5.1" fill="#8a4f95" opacity="0.25"/><ellipse cx="40" cy="162" rx="4.1" ry="3.7" fill="#8a4f95" opacity="0.25"/><ellipse cx="385" cy="90" rx="6.9" ry="7.5" fill="#8a4f95" opacity="0.25"/><ellipse cx="293" cy="137" rx="4.4" ry="3.9" fill="#8a4f95" opacity="0.25"/><ellipse cx="81" cy="146" rx="5.2" ry="4.6" fill="#8a4f95" opacity="0.25"/><ellipse cx="456" cy="131" rx="7.9" ry="7.0" fill="#8a4f95" opacity="0.25"/><ellipse cx="230" cy="130" rx="5.9" ry="4.8" fill="#8a4f95" opacity="0.25"/><ellipse cx="193" cy="100" rx="5.5" ry="6.0" fill="#8a4f95" opacity="0.25"/><ellipse cx="438" cy="119" rx="6.0" ry="5.0" fill="#8a4f95" opacity="0.25"/><ellipse cx="54" cy="116" rx="7.1" ry="7.5" fill="#8a4f95" opacity="0.25"/><ellipse cx="174" cy="141" rx="7.1" ry="6.9" fill="#8a4f95" opacity="0.25"/><ellipse cx="308" cy="136" rx="5.5" ry="5.4" fill="#8a4f95" opacity="0.25"/><ellipse cx="139" cy="125" rx="7.1" ry="6.9" fill="#8a4f95" opacity="0.25"/><ellipse cx="145" cy="155" rx="6.6" ry="6.2" fill="#8a4f95" opacity="0.25"/><ellipse cx="20" cy="141" rx="5.0" ry="4.8" fill="#8a4f95" opacity="0.25"/><ellipse cx="219" cy="134" rx="6.6" ry="6.7" fill="#8a4f95" opacity="0.25"/><ellipse cx="168" cy="133" rx="7.0" ry="7.2" fill="#8a4f95" opacity="0.25"/><ellipse cx="169" cy="145" rx="7.5" ry="7.3" fill="#8a4f95" opacity="0.25"/><ellipse cx="445" cy="139" rx="6.1" ry="5.5" fill="#8a4f95" opacity="0.25"/><ellipse cx="88" cy="144" rx="7.7" ry="6.9" fill="#8a4f95" opacity="0.25"/><ellipse cx="320" cy="133" rx="6.9" ry="5.3" fill="#8a4f95" opacity="0.25"/><ellipse cx="359" cy="117" rx="6.7" ry="5.8" fill="#8a4f95" opacity="0.25"/><ellipse cx="290" cy="136" rx="6.5" ry="6.5" fill="#8a4f95" opacity="0.25"/><ellipse cx="27" cy="111" rx="5.8" ry="5.5" fill="#8a4f95" opacity="0.25"/><ellipse cx="112" cy="136" rx="6.5" ry="4.7" fill="#8a4f95" opacity="0.25"/><ellipse cx="223" cy="103" rx="4.2" ry="3.2" fill="#8a4f95" opacity="0.25"/><ellipse cx="155" cy="106" rx="4.8" ry="3.4" fill="#8a4f95" opacity="0.25"/><ellipse cx="220" cy="111" rx="6.4" ry="6.0" fill="#8a4f95" opacity="0.25"/><ellipse cx="120" cy="150" rx="4.0" ry="3.5" fill="#8a4f95" opacity="0.25"/><ellipse cx="138" cy="120" rx="4.5" ry="4.6" fill="#8a4f95" opacity="0.25"/><ellipse cx="180" cy="95" rx="6.5" ry="4.8" fill="#8a4f95" opacity="0.25"/><ellipse cx="255" cy="109" rx="6.3" ry="6.9" fill="#8a4f95" opacity="0.25"/><ellipse cx="376" cy="106" rx="7.3" ry="6.9" fill="#8a4f95" opacity="0.25"/><ellipse cx="178" cy="101" rx="6.4" ry="5.9" fill="#8a4f95" opacity="0.25"/></g><rect x="0" y="0" width="456" height="340" filter="url(#nzd)"/><rect x="0" y="0" width="456" height="340" filter="url(#nzl)"/><g filter="url(#bl2)"><ellipse cx="438" cy="153" rx="5.1" ry="5.8" fill="#3a1c44" opacity="0.42"/><ellipse cx="40" cy="166" rx="4.3" ry="4.2" fill="#3a1c44" opacity="0.42"/><ellipse cx="296" cy="158" rx="6.7" ry="5.9" fill="#3a1c44" opacity="0.42"/><ellipse cx="220" cy="153" rx="4.7" ry="4.0" fill="#3a1c44" opacity="0.42"/><ellipse cx="445" cy="126" rx="6.7" ry="6.7" fill="#3a1c44" opacity="0.42"/><ellipse cx="148" cy="173" rx="6.9" ry="6.6" fill="#3a1c44" opacity="0.42"/><ellipse cx="213" cy="134" rx="5.5" ry="4.6" fill="#3a1c44" opacity="0.42"/><ellipse cx="238" cy="167" rx="4.4" ry="4.4" fill="#3a1c44" opacity="0.42"/><ellipse cx="224" cy="141" rx="6.5" ry="4.6" fill="#3a1c44" opacity="0.42"/><ellipse cx="262" cy="161" rx="4.8" ry="5.6" fill="#3a1c44" opacity="0.42"/><ellipse cx="365" cy="138" rx="4.5" ry="5.3" fill="#3a1c44" opacity="0.42"/><ellipse cx="162" cy="164" rx="5.8" ry="5.5" fill="#3a1c44" opacity="0.42"/><ellipse cx="308" cy="141" rx="4.4" ry="4.7" fill="#3a1c44" opacity="0.42"/><ellipse cx="165" cy="149" rx="5.6" ry="4.9" fill="#3a1c44" opacity="0.42"/><ellipse cx="163" cy="149" rx="5.1" ry="5.5" fill="#3a1c44" opacity="0.42"/><ellipse cx="286" cy="148" rx="4.1" ry="3.4" fill="#3a1c44" opacity="0.42"/><ellipse cx="230" cy="160" rx="5.6" ry="4.0" fill="#3a1c44" opacity="0.42"/><ellipse cx="364" cy="130" rx="5.3" ry="5.2" fill="#3a1c44" opacity="0.42"/><ellipse cx="335" cy="141" rx="6.7" ry="6.0" fill="#3a1c44" opacity="0.42"/><ellipse cx="203" cy="137" rx="6.6" ry="5.2" fill="#3a1c44" opacity="0.42"/><ellipse cx="163" cy="159" rx="6.5" ry="6.8" fill="#3a1c44" opacity="0.42"/><ellipse cx="220" cy="142" rx="4.9" ry="5.3" fill="#3a1c44" opacity="0.42"/><ellipse cx="419" cy="147" rx="5.6" ry="5.4" fill="#3a1c44" opacity="0.42"/><ellipse cx="178" cy="159" rx="4.5" ry="4.4" fill="#3a1c44" opacity="0.42"/><ellipse cx="378" cy="142" rx="6.5" ry="7.1" fill="#3a1c44" opacity="0.42"/><ellipse cx="316" cy="154" rx="4.1" ry="4.3" fill="#3a1c44" opacity="0.42"/><ellipse cx="447" cy="153" rx="4.1" ry="4.6" fill="#3a1c44" opacity="0.42"/><ellipse cx="131" cy="157" rx="5.9" ry="7.0" fill="#3a1c44" opacity="0.42"/><ellipse cx="336" cy="151" rx="6.8" ry="5.2" fill="#3a1c44" opacity="0.42"/><ellipse cx="294" cy="155" rx="5.2" ry="4.1" fill="#3a1c44" opacity="0.42"/><ellipse cx="299" cy="154" rx="5.1" ry="3.8" fill="#3a1c44" opacity="0.42"/><ellipse cx="64" cy="162" rx="5.7" ry="6.1" fill="#3a1c44" opacity="0.42"/><ellipse cx="405" cy="146" rx="4.9" ry="4.9" fill="#3a1c44" opacity="0.42"/><ellipse cx="244" cy="153" rx="6.8" ry="6.0" fill="#3a1c44" opacity="0.42"/><ellipse cx="108" cy="288" rx="7.5" ry="7.2" fill="#24102c" opacity="0.72"/><ellipse cx="175" cy="174" rx="7.2" ry="7.3" fill="#24102c" opacity="0.72"/><ellipse cx="121" cy="259" rx="8.0" ry="7.7" fill="#24102c" opacity="0.72"/><ellipse cx="112" cy="277" rx="5.9" ry="5.3" fill="#24102c" opacity="0.72"/><ellipse cx="149" cy="185" rx="7.6" ry="5.7" fill="#24102c" opacity="0.72"/><ellipse cx="133" cy="194" rx="5.4" ry="4.1" fill="#24102c" opacity="0.72"/><ellipse cx="137" cy="209" rx="6.9" ry="6.0" fill="#24102c" opacity="0.72"/><ellipse cx="149" cy="171" rx="5.1" ry="5.4" fill="#24102c" opacity="0.72"/><ellipse cx="96" cy="285" rx="7.7" ry="6.3" fill="#24102c" opacity="0.72"/><ellipse cx="94" cy="275" rx="8.9" ry="9.2" fill="#24102c" opacity="0.72"/><ellipse cx="158" cy="175" rx="6.4" ry="5.2" fill="#24102c" opacity="0.72"/><ellipse cx="110" cy="245" rx="7.5" ry="6.5" fill="#24102c" opacity="0.72"/><ellipse cx="114" cy="233" rx="7.6" ry="8.4" fill="#24102c" opacity="0.72"/><ellipse cx="116" cy="226" rx="8.4" ry="8.1" fill="#24102c" opacity="0.72"/><ellipse cx="148" cy="215" rx="6.6" ry="4.9" fill="#24102c" opacity="0.72"/><ellipse cx="111" cy="293" rx="5.8" ry="4.2" fill="#24102c" opacity="0.72"/><ellipse cx="179" cy="183" rx="5.0" ry="4.7" fill="#24102c" opacity="0.72"/><ellipse cx="169" cy="172" rx="7.5" ry="6.8" fill="#24102c" opacity="0.72"/><ellipse cx="125" cy="225" rx="5.6" ry="5.0" fill="#24102c" opacity="0.72"/><ellipse cx="120" cy="236" rx="8.5" ry="6.6" fill="#24102c" opacity="0.72"/><ellipse cx="116" cy="259" rx="6.1" ry="5.0" fill="#24102c" opacity="0.72"/><ellipse cx="126" cy="222" rx="5.1" ry="6.0" fill="#24102c" opacity="0.72"/><ellipse cx="112" cy="235" rx="7.7" ry="7.2" fill="#24102c" opacity="0.72"/><ellipse cx="180" cy="171" rx="5.5" ry="5.7" fill="#24102c" opacity="0.72"/><ellipse cx="122" cy="255" rx="5.7" ry="4.5" fill="#24102c" opacity="0.72"/><ellipse cx="117" cy="296" rx="5.9" ry="4.4" fill="#24102c" opacity="0.72"/><ellipse cx="117" cy="232" rx="6.2" ry="5.8" fill="#24102c" opacity="0.72"/><ellipse cx="117" cy="255" rx="7.9" ry="8.4" fill="#24102c" opacity="0.72"/><ellipse cx="111" cy="272" rx="8.8" ry="9.0" fill="#24102c" opacity="0.72"/><ellipse cx="115" cy="226" rx="8.9" ry="6.3" fill="#24102c" opacity="0.72"/><ellipse cx="106" cy="287" rx="5.2" ry="5.0" fill="#24102c" opacity="0.72"/><ellipse cx="187" cy="169" rx="7.1" ry="6.2" fill="#24102c" opacity="0.72"/><ellipse cx="93" cy="278" rx="7.0" ry="8.1" fill="#24102c" opacity="0.72"/><ellipse cx="100" cy="286" rx="6.0" ry="4.3" fill="#24102c" opacity="0.72"/><ellipse cx="119" cy="233" rx="6.6" ry="5.7" fill="#24102c" opacity="0.72"/><ellipse cx="104" cy="288" rx="5.2" ry="6.1" fill="#24102c" opacity="0.72"/><ellipse cx="120" cy="272" rx="7.1" ry="5.3" fill="#24102c" opacity="0.72"/><ellipse cx="118" cy="250" rx="5.4" ry="5.3" fill="#24102c" opacity="0.72"/><ellipse cx="182" cy="179" rx="5.9" ry="4.2" fill="#24102c" opacity="0.72"/><ellipse cx="142" cy="221" rx="6.9" ry="6.8" fill="#24102c" opacity="0.72"/><ellipse cx="114" cy="234" rx="8.7" ry="7.4" fill="#3a1c48" opacity="0.55"/><ellipse cx="119" cy="225" rx="8.3" ry="6.7" fill="#3a1c48" opacity="0.55"/><ellipse cx="90" cy="274" rx="8.1" ry="9.0" fill="#3a1c48" opacity="0.55"/><ellipse cx="92" cy="243" rx="5.5" ry="4.1" fill="#3a1c48" opacity="0.55"/><ellipse cx="84" cy="252" rx="7.3" ry="6.0" fill="#3a1c48" opacity="0.55"/><ellipse cx="80" cy="280" rx="7.8" ry="5.6" fill="#3a1c48" opacity="0.55"/><ellipse cx="94" cy="262" rx="5.4" ry="4.9" fill="#3a1c48" opacity="0.55"/><ellipse cx="86" cy="242" rx="8.0" ry="7.8" fill="#3a1c48" opacity="0.55"/><ellipse cx="163" cy="164" rx="7.3" ry="6.7" fill="#3a1c48" opacity="0.55"/><ellipse cx="158" cy="176" rx="7.6" ry="9.0" fill="#3a1c48" opacity="0.55"/><ellipse cx="139" cy="175" rx="8.2" ry="7.4" fill="#3a1c48" opacity="0.55"/><ellipse cx="97" cy="273" rx="5.3" ry="4.1" fill="#3a1c48" opacity="0.55"/><ellipse cx="98" cy="253" rx="5.3" ry="5.7" fill="#3a1c48" opacity="0.55"/><ellipse cx="123" cy="208" rx="5.1" ry="3.7" fill="#3a1c48" opacity="0.55"/><ellipse cx="102" cy="275" rx="8.8" ry="8.8" fill="#3a1c48" opacity="0.55"/><ellipse cx="76" cy="252" rx="6.7" ry="5.9" fill="#3a1c48" opacity="0.55"/><ellipse cx="83" cy="238" rx="8.3" ry="8.8" fill="#3a1c48" opacity="0.55"/><ellipse cx="86" cy="276" rx="7.1" ry="5.6" fill="#3a1c48" opacity="0.55"/><ellipse cx="152" cy="193" rx="8.2" ry="6.2" fill="#3a1c48" opacity="0.55"/><ellipse cx="88" cy="242" rx="8.7" ry="8.1" fill="#3a1c48" opacity="0.55"/><ellipse cx="122" cy="229" rx="8.7" ry="8.5" fill="#3a1c48" opacity="0.55"/><ellipse cx="160" cy="144" rx="7.4" ry="5.6" fill="#3a1c48" opacity="0.55"/><ellipse cx="149" cy="167" rx="8.9" ry="6.4" fill="#3a1c48" opacity="0.55"/><ellipse cx="115" cy="201" rx="6.9" ry="7.9" fill="#3a1c48" opacity="0.55"/><ellipse cx="229" cy="156" rx="5.6" ry="5.5" fill="#2c1636" opacity="0.55"/><ellipse cx="227" cy="151" rx="7.3" ry="6.0" fill="#2c1636" opacity="0.55"/><ellipse cx="225" cy="156" rx="7.5" ry="8.5" fill="#2c1636" opacity="0.55"/><ellipse cx="252" cy="147" rx="6.2" ry="4.8" fill="#2c1636" opacity="0.55"/><ellipse cx="263" cy="182" rx="5.5" ry="4.1" fill="#2c1636" opacity="0.55"/><ellipse cx="259" cy="173" rx="7.7" ry="6.2" fill="#2c1636" opacity="0.55"/><ellipse cx="260" cy="181" rx="7.6" ry="7.7" fill="#2c1636" opacity="0.55"/><ellipse cx="270" cy="174" rx="6.1" ry="4.3" fill="#2c1636" opacity="0.55"/><ellipse cx="237" cy="163" rx="6.2" ry="5.3" fill="#2c1636" opacity="0.55"/><ellipse cx="275" cy="201" rx="7.2" ry="6.5" fill="#1e0c26" opacity="0.72"/><ellipse cx="278" cy="234" rx="9.9" ry="11.0" fill="#1e0c26" opacity="0.72"/><ellipse cx="287" cy="260" rx="8.8" ry="9.1" fill="#1e0c26" opacity="0.72"/><ellipse cx="282" cy="238" rx="8.4" ry="8.7" fill="#1e0c26" opacity="0.72"/><ellipse cx="274" cy="238" rx="7.1" ry="5.3" fill="#1e0c26" opacity="0.72"/><ellipse cx="272" cy="206" rx="9.0" ry="9.6" fill="#1e0c26" opacity="0.72"/><ellipse cx="286" cy="221" rx="9.7" ry="8.1" fill="#1e0c26" opacity="0.72"/><ellipse cx="294" cy="238" rx="8.7" ry="10.2" fill="#1e0c26" opacity="0.72"/><ellipse cx="296" cy="252" rx="8.8" ry="9.8" fill="#1e0c26" opacity="0.72"/><ellipse cx="282" cy="247" rx="8.1" ry="9.3" fill="#1e0c26" opacity="0.72"/><ellipse cx="275" cy="217" rx="9.9" ry="9.6" fill="#1e0c26" opacity="0.72"/><ellipse cx="286" cy="227" rx="6.7" ry="6.9" fill="#1e0c26" opacity="0.72"/><ellipse cx="292" cy="255" rx="9.6" ry="9.7" fill="#1e0c26" opacity="0.72"/><ellipse cx="287" cy="227" rx="8.2" ry="8.7" fill="#1e0c26" opacity="0.72"/><ellipse cx="286" cy="226" rx="9.5" ry="7.7" fill="#1e0c26" opacity="0.72"/><ellipse cx="278" cy="221" rx="9.6" ry="7.5" fill="#1e0c26" opacity="0.72"/><ellipse cx="290" cy="233" rx="9.1" ry="7.4" fill="#1e0c26" opacity="0.72"/><ellipse cx="265" cy="205" rx="9.5" ry="10.1" fill="#1e0c26" opacity="0.72"/><ellipse cx="340" cy="279" rx="8.7" ry="8.4" fill="#1a0a20" opacity="0.78"/><ellipse cx="395" cy="257" rx="9.4" ry="11.1" fill="#1a0a20" opacity="0.78"/><ellipse cx="317" cy="259" rx="7.1" ry="5.4" fill="#1a0a20" opacity="0.78"/><ellipse cx="360" cy="275" rx="7.8" ry="7.7" fill="#1a0a20" opacity="0.78"/><ellipse cx="372" cy="274" rx="9.8" ry="10.4" fill="#1a0a20" opacity="0.78"/><ellipse cx="293" cy="272" rx="10.8" ry="9.3" fill="#1a0a20" opacity="0.78"/><ellipse cx="387" cy="259" rx="9.6" ry="11.1" fill="#1a0a20" opacity="0.78"/><ellipse cx="318" cy="272" rx="8.9" ry="6.7" fill="#1a0a20" opacity="0.78"/><ellipse cx="310" cy="278" rx="7.6" ry="5.7" fill="#1a0a20" opacity="0.78"/><ellipse cx="309" cy="265" rx="10.0" ry="10.7" fill="#1a0a20" opacity="0.78"/><ellipse cx="386" cy="265" rx="10.2" ry="10.8" fill="#1a0a20" opacity="0.78"/><ellipse cx="389" cy="246" rx="10.9" ry="8.2" fill="#1a0a20" opacity="0.78"/><ellipse cx="303" cy="263" rx="7.3" ry="5.8" fill="#1a0a20" opacity="0.78"/><ellipse cx="334" cy="285" rx="10.0" ry="7.4" fill="#1a0a20" opacity="0.78"/><ellipse cx="337" cy="270" rx="9.2" ry="8.1" fill="#1a0a20" opacity="0.78"/><ellipse cx="303" cy="267" rx="9.7" ry="9.2" fill="#1a0a20" opacity="0.78"/><ellipse cx="403" cy="254" rx="10.8" ry="7.9" fill="#1a0a20" opacity="0.78"/><ellipse cx="379" cy="269" rx="7.5" ry="7.0" fill="#1a0a20" opacity="0.78"/><ellipse cx="334" cy="279" rx="9.9" ry="11.5" fill="#1a0a20" opacity="0.78"/><ellipse cx="335" cy="275" rx="9.8" ry="10.7" fill="#1a0a20" opacity="0.78"/><ellipse cx="361" cy="262" rx="8.2" ry="7.1" fill="#1a0a20" opacity="0.78"/><ellipse cx="389" cy="263" rx="8.7" ry="7.1" fill="#1a0a20" opacity="0.78"/><ellipse cx="374" cy="271" rx="7.3" ry="6.1" fill="#1a0a20" opacity="0.78"/><ellipse cx="294" cy="281" rx="9.2" ry="8.2" fill="#1a0a20" opacity="0.78"/><ellipse cx="395" cy="250" rx="7.4" ry="6.5" fill="#1a0a20" opacity="0.78"/><ellipse cx="375" cy="253" rx="8.4" ry="6.0" fill="#1a0a20" opacity="0.78"/><ellipse cx="323" cy="268" rx="8.8" ry="7.9" fill="#1a0a20" opacity="0.78"/><ellipse cx="353" cy="266" rx="10.9" ry="10.0" fill="#1a0a20" opacity="0.78"/><ellipse cx="347" cy="270" rx="7.3" ry="6.2" fill="#1a0a20" opacity="0.78"/><ellipse cx="402" cy="254" rx="7.2" ry="6.5" fill="#1a0a20" opacity="0.78"/><ellipse cx="385" cy="274" rx="8.7" ry="8.7" fill="#1a0a20" opacity="0.78"/><ellipse cx="398" cy="261" rx="7.1" ry="5.1" fill="#1a0a20" opacity="0.78"/><ellipse cx="385" cy="275" rx="8.7" ry="9.8" fill="#1a0a20" opacity="0.78"/><ellipse cx="381" cy="257" rx="11.0" ry="11.9" fill="#1a0a20" opacity="0.78"/><ellipse cx="395" cy="260" rx="7.6" ry="8.3" fill="#1a0a20" opacity="0.78"/><ellipse cx="338" cy="247" rx="7.9" ry="7.2" fill="#1a0a20" opacity="0.78"/><ellipse cx="324" cy="273" rx="8.9" ry="7.5" fill="#1a0a20" opacity="0.78"/><ellipse cx="374" cy="267" rx="8.8" ry="6.5" fill="#1a0a20" opacity="0.78"/><ellipse cx="334" cy="269" rx="10.6" ry="12.1" fill="#1a0a20" opacity="0.78"/><ellipse cx="321" cy="251" rx="10.8" ry="10.8" fill="#1a0a20" opacity="0.78"/><ellipse cx="309" cy="260" rx="7.9" ry="9.2" fill="#1a0a20" opacity="0.78"/><ellipse cx="394" cy="249" rx="8.7" ry="7.3" fill="#1a0a20" opacity="0.78"/><ellipse cx="377" cy="268" rx="8.5" ry="9.2" fill="#1a0a20" opacity="0.78"/><ellipse cx="302" cy="283" rx="9.8" ry="7.3" fill="#1a0a20" opacity="0.78"/><ellipse cx="304" cy="263" rx="9.6" ry="8.5" fill="#1a0a20" opacity="0.78"/><ellipse cx="333" cy="283" rx="10.9" ry="8.9" fill="#1a0a20" opacity="0.78"/><ellipse cx="359" cy="245" rx="6.8" ry="6.6" fill="#3a1c44" opacity="0.5"/><ellipse cx="355" cy="246" rx="8.1" ry="5.7" fill="#3a1c44" opacity="0.5"/><ellipse cx="359" cy="242" rx="7.3" ry="6.9" fill="#3a1c44" opacity="0.5"/><ellipse cx="365" cy="246" rx="7.5" ry="5.4" fill="#3a1c44" opacity="0.5"/><ellipse cx="334" cy="252" rx="7.0" ry="5.0" fill="#3a1c44" opacity="0.5"/><ellipse cx="333" cy="261" rx="8.8" ry="7.8" fill="#3a1c44" opacity="0.5"/><ellipse cx="353" cy="243" rx="8.1" ry="9.5" fill="#3a1c44" opacity="0.5"/><ellipse cx="378" cy="226" rx="6.5" ry="7.6" fill="#3a1c44" opacity="0.5"/><ellipse cx="309" cy="237" rx="7.3" ry="7.8" fill="#3a1c44" opacity="0.5"/><ellipse cx="355" cy="265" rx="6.9" ry="6.7" fill="#3a1c44" opacity="0.5"/><ellipse cx="361" cy="232" rx="6.4" ry="5.6" fill="#3a1c44" opacity="0.5"/><ellipse cx="349" cy="254" rx="7.4" ry="5.4" fill="#3a1c44" opacity="0.5"/><ellipse cx="309" cy="240" rx="7.0" ry="5.4" fill="#3a1c44" opacity="0.5"/><ellipse cx="386" cy="232" rx="8.4" ry="8.9" fill="#3a1c44" opacity="0.5"/><ellipse cx="336" cy="239" rx="8.5" ry="8.6" fill="#3a1c44" opacity="0.5"/><ellipse cx="334" cy="254" rx="6.8" ry="7.7" fill="#3a1c44" opacity="0.5"/><ellipse cx="341" cy="254" rx="8.7" ry="6.9" fill="#3a1c44" opacity="0.5"/><ellipse cx="323" cy="225" rx="7.7" ry="5.4" fill="#3a1c44" opacity="0.5"/><ellipse cx="307" cy="230" rx="8.5" ry="8.0" fill="#3a1c44" opacity="0.5"/><ellipse cx="367" cy="230" rx="6.4" ry="6.7" fill="#3a1c44" opacity="0.5"/><ellipse cx="422" cy="200" rx="7.4" ry="6.0" fill="#2a1433" opacity="0.6"/><ellipse cx="442" cy="178" rx="7.7" ry="5.8" fill="#2a1433" opacity="0.6"/><ellipse cx="401" cy="247" rx="6.8" ry="7.0" fill="#2a1433" opacity="0.6"/><ellipse cx="440" cy="184" rx="7.6" ry="8.5" fill="#2a1433" opacity="0.6"/><ellipse cx="407" cy="245" rx="8.0" ry="6.6" fill="#2a1433" opacity="0.6"/><ellipse cx="399" cy="225" rx="7.1" ry="8.1" fill="#2a1433" opacity="0.6"/><ellipse cx="415" cy="216" rx="5.6" ry="4.5" fill="#2a1433" opacity="0.6"/><ellipse cx="405" cy="231" rx="5.4" ry="4.7" fill="#2a1433" opacity="0.6"/><ellipse cx="405" cy="248" rx="6.7" ry="6.8" fill="#2a1433" opacity="0.6"/><ellipse cx="425" cy="198" rx="7.0" ry="7.3" fill="#2a1433" opacity="0.6"/><ellipse cx="411" cy="216" rx="7.3" ry="8.4" fill="#2a1433" opacity="0.6"/><ellipse cx="406" cy="242" rx="7.1" ry="8.2" fill="#2a1433" opacity="0.6"/><ellipse cx="57" cy="290" rx="8.6" ry="7.9" fill="#241030" opacity="0.65"/><ellipse cx="74" cy="293" rx="6.4" ry="5.3" fill="#241030" opacity="0.65"/><ellipse cx="42" cy="253" rx="9.6" ry="8.0" fill="#241030" opacity="0.65"/><ellipse cx="62" cy="259" rx="6.5" ry="7.0" fill="#241030" opacity="0.65"/><ellipse cx="40" cy="235" rx="6.4" ry="6.5" fill="#241030" opacity="0.65"/><ellipse cx="78" cy="288" rx="9.9" ry="8.8" fill="#241030" opacity="0.65"/><ellipse cx="63" cy="277" rx="8.9" ry="7.4" fill="#241030" opacity="0.65"/><ellipse cx="46" cy="263" rx="6.3" ry="6.6" fill="#241030" opacity="0.65"/><ellipse cx="46" cy="271" rx="9.5" ry="6.9" fill="#241030" opacity="0.65"/><ellipse cx="38" cy="271" rx="9.2" ry="10.5" fill="#241030" opacity="0.65"/><ellipse cx="53" cy="300" rx="6.4" ry="5.8" fill="#241030" opacity="0.65"/><ellipse cx="32" cy="268" rx="7.2" ry="5.4" fill="#241030" opacity="0.65"/><ellipse cx="53" cy="275" rx="9.7" ry="11.4" fill="#241030" opacity="0.65"/><ellipse cx="50" cy="288" rx="6.5" ry="6.3" fill="#241030" opacity="0.65"/><ellipse cx="21" cy="255" rx="9.9" ry="9.7" fill="#241030" opacity="0.65"/><ellipse cx="48" cy="266" rx="9.9" ry="9.0" fill="#241030" opacity="0.65"/><ellipse cx="31" cy="267" rx="8.1" ry="9.3" fill="#241030" opacity="0.65"/><ellipse cx="44" cy="244" rx="7.3" ry="8.1" fill="#241030" opacity="0.65"/><ellipse cx="55" cy="252" rx="6.6" ry="4.8" fill="#241030" opacity="0.65"/><ellipse cx="85" cy="283" rx="9.7" ry="9.5" fill="#241030" opacity="0.65"/><ellipse cx="53" cy="275" rx="7.1" ry="7.7" fill="#241030" opacity="0.65"/><ellipse cx="34" cy="233" rx="8.4" ry="6.5" fill="#241030" opacity="0.65"/><ellipse cx="30" cy="254" rx="8.8" ry="9.3" fill="#241030" opacity="0.65"/><ellipse cx="23" cy="250" rx="6.7" ry="5.0" fill="#241030" opacity="0.65"/><ellipse cx="48" cy="268" rx="8.5" ry="9.6" fill="#241030" opacity="0.65"/><ellipse cx="27" cy="245" rx="8.3" ry="6.9" fill="#241030" opacity="0.65"/><ellipse cx="330" cy="194" rx="6.2" ry="4.6" fill="#3a1c44" opacity="0.35"/><ellipse cx="387" cy="214" rx="5.8" ry="5.5" fill="#3a1c44" opacity="0.35"/><ellipse cx="348" cy="251" rx="6.8" ry="5.5" fill="#3a1c44" opacity="0.35"/><ellipse cx="327" cy="251" rx="4.4" ry="3.8" fill="#3a1c44" opacity="0.35"/><ellipse cx="338" cy="258" rx="4.4" ry="4.2" fill="#3a1c44" opacity="0.35"/><ellipse cx="386" cy="241" rx="4.0" ry="4.3" fill="#3a1c44" opacity="0.35"/><ellipse cx="324" cy="250" rx="6.0" ry="5.2" fill="#3a1c44" opacity="0.35"/><ellipse cx="397" cy="237" rx="5.0" ry="5.0" fill="#3a1c44" opacity="0.35"/><ellipse cx="351" cy="240" rx="5.8" ry="6.0" fill="#3a1c44" opacity="0.35"/><ellipse cx="302" cy="225" rx="4.0" ry="4.1" fill="#3a1c44" opacity="0.35"/><ellipse cx="388" cy="249" rx="4.1" ry="3.8" fill="#3a1c44" opacity="0.35"/><ellipse cx="347" cy="198" rx="4.6" ry="5.0" fill="#3a1c44" opacity="0.35"/><ellipse cx="399" cy="207" rx="6.5" ry="6.2" fill="#3a1c44" opacity="0.35"/><ellipse cx="334" cy="235" rx="4.7" ry="3.8" fill="#3a1c44" opacity="0.35"/><ellipse cx="281" cy="236" rx="5.7" ry="5.7" fill="#3a1c44" opacity="0.35"/><ellipse cx="351" cy="220" rx="4.9" ry="4.9" fill="#3a1c44" opacity="0.35"/><ellipse cx="332" cy="232" rx="6.3" ry="5.5" fill="#3a1c44" opacity="0.35"/><ellipse cx="376" cy="194" rx="4.8" ry="5.0" fill="#3a1c44" opacity="0.35"/><ellipse cx="301" cy="194" rx="4.0" ry="4.1" fill="#3a1c44" opacity="0.35"/><ellipse cx="295" cy="222" rx="5.3" ry="5.4" fill="#3a1c44" opacity="0.35"/><ellipse cx="347" cy="227" rx="4.1" ry="4.1" fill="#3a1c44" opacity="0.35"/><ellipse cx="387" cy="234" rx="6.5" ry="6.2" fill="#3a1c44" opacity="0.35"/><ellipse cx="380" cy="250" rx="5.9" ry="4.1" fill="#3a1c44" opacity="0.35"/><ellipse cx="404" cy="259" rx="4.6" ry="3.3" fill="#3a1c44" opacity="0.35"/><ellipse cx="47" cy="190" rx="5.1" ry="3.8" fill="#3a1c44" opacity="0.32"/><ellipse cx="36" cy="182" rx="5.3" ry="4.3" fill="#3a1c44" opacity="0.32"/><ellipse cx="84" cy="211" rx="4.5" ry="4.9" fill="#3a1c44" opacity="0.32"/><ellipse cx="100" cy="235" rx="4.7" ry="4.0" fill="#3a1c44" opacity="0.32"/><ellipse cx="58" cy="218" rx="4.1" ry="3.6" fill="#3a1c44" opacity="0.32"/><ellipse cx="88" cy="238" rx="6.6" ry="6.4" fill="#3a1c44" opacity="0.32"/><ellipse cx="87" cy="255" rx="6.8" ry="6.9" fill="#3a1c44" opacity="0.32"/><ellipse cx="55" cy="244" rx="6.0" ry="6.3" fill="#3a1c44" opacity="0.32"/><ellipse cx="83" cy="216" rx="4.6" ry="3.8" fill="#3a1c44" opacity="0.32"/><ellipse cx="39" cy="250" rx="6.3" ry="4.9" fill="#3a1c44" opacity="0.32"/><ellipse cx="66" cy="259" rx="5.1" ry="3.8" fill="#3a1c44" opacity="0.32"/><ellipse cx="73" cy="211" rx="4.4" ry="3.6" fill="#3a1c44" opacity="0.32"/><ellipse cx="16" cy="201" rx="5.3" ry="3.9" fill="#3a1c44" opacity="0.32"/><ellipse cx="16" cy="243" rx="6.9" ry="7.1" fill="#3a1c44" opacity="0.32"/><ellipse cx="46" cy="273" rx="4.2" ry="3.2" fill="#3a1c44" opacity="0.32"/><ellipse cx="16" cy="191" rx="5.8" ry="5.8" fill="#3a1c44" opacity="0.32"/></g><rect x="16" y="11" width="22" height="6" fill="#222"/></g></svg>
<text class="w" x="474.2" y="35.1">light</text>
<text class="w" x="474.2" y="87">interm.</text>
<text class="w" x="474.2" y="142.5">tan</text>
<text class="w" x="474.2" y="200">brown</text>
<text class="w" x="474.2" y="255.6">dark</text>
</svg></body></html>
